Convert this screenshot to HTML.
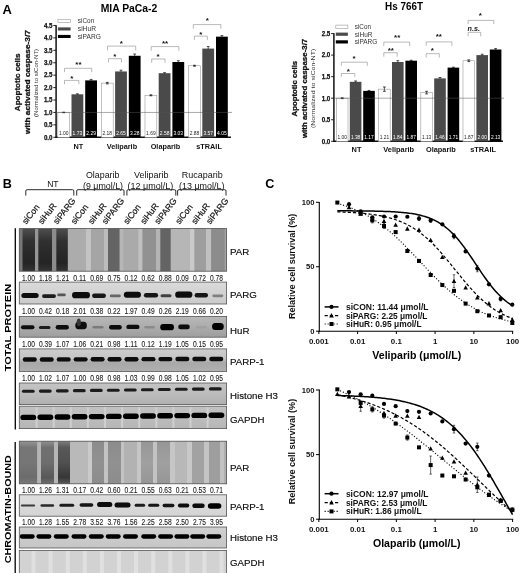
<!DOCTYPE html>
<html><head><meta charset="utf-8"><title>Figure</title>
<style>html,body{margin:0;padding:0;background:#fff;}svg{display:block;}</style>
</head><body>
<svg width="520" height="573" viewBox="0 0 520 573" font-family="'Liberation Sans', Arial, sans-serif">
<defs><filter id="bl" x="-20%" y="-80%" width="140%" height="260%"><feGaussianBlur stdDeviation="0.75"/></filter><linearGradient id="vg1" x1="0" y1="0" x2="0" y2="1"><stop offset="0" stop-color="#4e4e4e"/><stop offset="0.3" stop-color="#303030"/><stop offset="0.8" stop-color="#242424"/><stop offset="1" stop-color="#343434"/></linearGradient><linearGradient id="vg2" x1="0" y1="0" x2="0" y2="1"><stop offset="0" stop-color="#dadada"/><stop offset="1" stop-color="#cacaca"/></linearGradient><linearGradient id="vg3" x1="0" y1="0" x2="0" y2="1"><stop offset="0" stop-color="#b8b8b8"/><stop offset="0.5" stop-color="#acacac"/><stop offset="1" stop-color="#9e9e9e"/></linearGradient><linearGradient id="vg4" x1="0" y1="0" x2="0" y2="1"><stop offset="0" stop-color="#cecece"/><stop offset="0.42" stop-color="#c4c4c4"/><stop offset="0.62" stop-color="#a8a8a8"/><stop offset="1" stop-color="#b0b0b0"/></linearGradient><linearGradient id="vg5" x1="0" y1="0" x2="0" y2="1"><stop offset="0" stop-color="#c4c4c4"/><stop offset="0.5" stop-color="#bcbcbc"/><stop offset="1" stop-color="#b0b0b0"/></linearGradient><linearGradient id="vg6" x1="0" y1="0" x2="0" y2="1"><stop offset="0" stop-color="#c2c2c2"/><stop offset="1" stop-color="#b6b6b6"/></linearGradient><linearGradient id="vg7" x1="0" y1="0" x2="0" y2="1"><stop offset="0" stop-color="#969696"/><stop offset="0.15" stop-color="#767676"/><stop offset="0.5" stop-color="#767676"/><stop offset="0.85" stop-color="#6c6c6c"/><stop offset="1" stop-color="#7a7a7a"/></linearGradient><linearGradient id="vg8" x1="0" y1="0" x2="0" y2="1"><stop offset="0" stop-color="#919191"/><stop offset="0.15" stop-color="#707070"/><stop offset="0.5" stop-color="#6e6e6e"/><stop offset="0.85" stop-color="#585858"/><stop offset="1" stop-color="#6e6e6e"/></linearGradient><linearGradient id="vg9" x1="0" y1="0" x2="0" y2="1"><stop offset="0" stop-color="#7d7d7d"/><stop offset="0.15" stop-color="#585858"/><stop offset="0.5" stop-color="#505050"/><stop offset="0.85" stop-color="#373737"/><stop offset="1" stop-color="#5a5a5a"/></linearGradient><linearGradient id="vg10" x1="0" y1="0" x2="0" y2="1"><stop offset="0" stop-color="#8c8c8c"/><stop offset="0.5" stop-color="#919191"/><stop offset="1" stop-color="#8c8c8c"/></linearGradient><linearGradient id="vg11" x1="0" y1="0" x2="0" y2="1"><stop offset="0" stop-color="#969696"/><stop offset="0.5" stop-color="#a0a0a0"/><stop offset="1" stop-color="#969696"/></linearGradient><linearGradient id="vg12" x1="0" y1="0" x2="0" y2="1"><stop offset="0" stop-color="#dedede"/><stop offset="1" stop-color="#d4d4d4"/></linearGradient><linearGradient id="vg13" x1="0" y1="0" x2="0" y2="1"><stop offset="0" stop-color="#d0d0d0"/><stop offset="1" stop-color="#c6c6c6"/></linearGradient></defs>
<rect width="520" height="573" fill="#fff"/>
<text x="2.60" y="13.80" font-size="13" fill="#000" font-weight="bold">A</text>
<line x1="56.10" y1="25.18" x2="56.10" y2="138.00" stroke="#111" stroke-width="1.5"/>
<line x1="53.30" y1="137.30" x2="56.10" y2="137.30" stroke="#111" stroke-width="0.9"/>
<text x="52.50" y="139.60" font-size="6.6" fill="#111" font-weight="bold" text-anchor="end" textLength="8.60" lengthAdjust="spacingAndGlyphs" stroke="#111" stroke-width="0.25">0.0</text>
<line x1="53.30" y1="124.88" x2="56.10" y2="124.88" stroke="#111" stroke-width="0.9"/>
<text x="52.50" y="127.18" font-size="6.6" fill="#111" font-weight="bold" text-anchor="end" textLength="8.60" lengthAdjust="spacingAndGlyphs" stroke="#111" stroke-width="0.25">0.5</text>
<line x1="53.30" y1="112.45" x2="56.10" y2="112.45" stroke="#111" stroke-width="0.9"/>
<text x="52.50" y="114.75" font-size="6.6" fill="#111" font-weight="bold" text-anchor="end" textLength="8.60" lengthAdjust="spacingAndGlyphs" stroke="#111" stroke-width="0.25">1.0</text>
<line x1="53.30" y1="100.03" x2="56.10" y2="100.03" stroke="#111" stroke-width="0.9"/>
<text x="52.50" y="102.33" font-size="6.6" fill="#111" font-weight="bold" text-anchor="end" textLength="8.60" lengthAdjust="spacingAndGlyphs" stroke="#111" stroke-width="0.25">1.5</text>
<line x1="53.30" y1="87.60" x2="56.10" y2="87.60" stroke="#111" stroke-width="0.9"/>
<text x="52.50" y="89.90" font-size="6.6" fill="#111" font-weight="bold" text-anchor="end" textLength="8.60" lengthAdjust="spacingAndGlyphs" stroke="#111" stroke-width="0.25">2.0</text>
<line x1="53.30" y1="75.18" x2="56.10" y2="75.18" stroke="#111" stroke-width="0.9"/>
<text x="52.50" y="77.48" font-size="6.6" fill="#111" font-weight="bold" text-anchor="end" textLength="8.60" lengthAdjust="spacingAndGlyphs" stroke="#111" stroke-width="0.25">2.5</text>
<line x1="53.30" y1="62.75" x2="56.10" y2="62.75" stroke="#111" stroke-width="0.9"/>
<text x="52.50" y="65.05" font-size="6.6" fill="#111" font-weight="bold" text-anchor="end" textLength="8.60" lengthAdjust="spacingAndGlyphs" stroke="#111" stroke-width="0.25">3.0</text>
<line x1="53.30" y1="50.33" x2="56.10" y2="50.33" stroke="#111" stroke-width="0.9"/>
<text x="52.50" y="52.62" font-size="6.6" fill="#111" font-weight="bold" text-anchor="end" textLength="8.60" lengthAdjust="spacingAndGlyphs" stroke="#111" stroke-width="0.25">3.5</text>
<line x1="53.30" y1="37.90" x2="56.10" y2="37.90" stroke="#111" stroke-width="0.9"/>
<text x="52.50" y="40.20" font-size="6.6" fill="#111" font-weight="bold" text-anchor="end" textLength="8.60" lengthAdjust="spacingAndGlyphs" stroke="#111" stroke-width="0.25">4.0</text>
<line x1="53.30" y1="25.48" x2="56.10" y2="25.48" stroke="#111" stroke-width="0.9"/>
<text x="52.50" y="27.78" font-size="6.6" fill="#111" font-weight="bold" text-anchor="end" textLength="8.60" lengthAdjust="spacingAndGlyphs" stroke="#111" stroke-width="0.25">4.5</text>
<line x1="55.40" y1="137.30" x2="231.00" y2="137.30" stroke="#111" stroke-width="1.4"/>
<rect x="57.80" y="112.45" width="11.80" height="24.85" fill="#fff" stroke="#9a9a9a" stroke-width="0.6"/>
<line x1="63.70" y1="112.20" x2="63.70" y2="112.70" stroke="#000" stroke-width="0.6"/>
<line x1="62.30" y1="112.70" x2="65.10" y2="112.70" stroke="#000" stroke-width="0.7"/>
<line x1="62.30" y1="112.20" x2="65.10" y2="112.20" stroke="#000" stroke-width="0.7"/>
<text x="63.70" y="135.10" font-size="5.8" fill="#222" text-anchor="middle" textLength="9.60" lengthAdjust="spacingAndGlyphs">1.00</text>
<rect x="71.50" y="94.31" width="11.80" height="42.99" fill="#4a4a4a"/>
<line x1="77.40" y1="93.81" x2="77.40" y2="94.81" stroke="#000" stroke-width="0.6"/>
<line x1="76.00" y1="93.81" x2="78.80" y2="93.81" stroke="#000" stroke-width="0.7"/>
<text x="77.40" y="135.10" font-size="5.8" fill="#fff" text-anchor="middle" textLength="9.60" lengthAdjust="spacingAndGlyphs">1.73</text>
<rect x="85.20" y="80.39" width="11.80" height="56.91" fill="#000"/>
<line x1="91.10" y1="79.40" x2="91.10" y2="80.89" stroke="#000" stroke-width="0.6"/>
<line x1="89.70" y1="79.40" x2="92.50" y2="79.40" stroke="#000" stroke-width="0.7"/>
<text x="91.10" y="135.10" font-size="5.8" fill="#fff" text-anchor="middle" textLength="9.60" lengthAdjust="spacingAndGlyphs">2.29</text>
<text x="78.30" y="148.70" font-size="7.3" fill="#111" font-weight="bold" text-anchor="middle">NT</text>
<rect x="101.40" y="83.13" width="11.80" height="54.17" fill="#fff" stroke="#9a9a9a" stroke-width="0.6"/>
<line x1="107.30" y1="82.38" x2="107.30" y2="83.87" stroke="#000" stroke-width="0.6"/>
<line x1="105.90" y1="83.87" x2="108.70" y2="83.87" stroke="#000" stroke-width="0.7"/>
<line x1="105.90" y1="82.38" x2="108.70" y2="82.38" stroke="#000" stroke-width="0.7"/>
<text x="107.30" y="135.10" font-size="5.8" fill="#222" text-anchor="middle" textLength="9.60" lengthAdjust="spacingAndGlyphs">2.18</text>
<rect x="115.10" y="71.45" width="11.80" height="65.85" fill="#4a4a4a"/>
<line x1="121.00" y1="70.21" x2="121.00" y2="71.95" stroke="#000" stroke-width="0.6"/>
<line x1="119.60" y1="70.21" x2="122.40" y2="70.21" stroke="#000" stroke-width="0.7"/>
<text x="121.00" y="135.10" font-size="5.8" fill="#fff" text-anchor="middle" textLength="9.60" lengthAdjust="spacingAndGlyphs">2.65</text>
<rect x="128.80" y="55.79" width="11.80" height="81.51" fill="#000"/>
<line x1="134.70" y1="54.05" x2="134.70" y2="56.29" stroke="#000" stroke-width="0.6"/>
<line x1="133.30" y1="54.05" x2="136.10" y2="54.05" stroke="#000" stroke-width="0.7"/>
<text x="134.70" y="135.10" font-size="5.8" fill="#fff" text-anchor="middle" textLength="9.60" lengthAdjust="spacingAndGlyphs">3.28</text>
<text x="121.90" y="148.70" font-size="7.3" fill="#111" font-weight="bold" text-anchor="middle">Veliparib</text>
<rect x="145.00" y="95.30" width="11.80" height="42.00" fill="#fff" stroke="#9a9a9a" stroke-width="0.6"/>
<line x1="150.90" y1="94.81" x2="150.90" y2="95.80" stroke="#000" stroke-width="0.6"/>
<line x1="149.50" y1="95.80" x2="152.30" y2="95.80" stroke="#000" stroke-width="0.7"/>
<line x1="149.50" y1="94.81" x2="152.30" y2="94.81" stroke="#000" stroke-width="0.7"/>
<text x="150.90" y="135.10" font-size="5.8" fill="#222" text-anchor="middle" textLength="9.60" lengthAdjust="spacingAndGlyphs">1.69</text>
<rect x="158.70" y="73.19" width="11.80" height="64.11" fill="#4a4a4a"/>
<line x1="164.60" y1="72.69" x2="164.60" y2="73.69" stroke="#000" stroke-width="0.6"/>
<line x1="163.20" y1="72.69" x2="166.00" y2="72.69" stroke="#000" stroke-width="0.7"/>
<text x="164.60" y="135.10" font-size="5.8" fill="#fff" text-anchor="middle" textLength="9.60" lengthAdjust="spacingAndGlyphs">2.58</text>
<rect x="172.40" y="62.00" width="11.80" height="75.30" fill="#000"/>
<line x1="178.30" y1="60.76" x2="178.30" y2="62.50" stroke="#000" stroke-width="0.6"/>
<line x1="176.90" y1="60.76" x2="179.70" y2="60.76" stroke="#000" stroke-width="0.7"/>
<text x="178.30" y="135.10" font-size="5.8" fill="#fff" text-anchor="middle" textLength="9.60" lengthAdjust="spacingAndGlyphs">3.03</text>
<text x="165.50" y="148.70" font-size="7.3" fill="#111" font-weight="bold" text-anchor="middle">Olaparib</text>
<rect x="188.60" y="65.73" width="11.80" height="71.57" fill="#fff" stroke="#9a9a9a" stroke-width="0.6"/>
<line x1="194.50" y1="65.24" x2="194.50" y2="66.23" stroke="#000" stroke-width="0.6"/>
<line x1="193.10" y1="66.23" x2="195.90" y2="66.23" stroke="#000" stroke-width="0.7"/>
<line x1="193.10" y1="65.24" x2="195.90" y2="65.24" stroke="#000" stroke-width="0.7"/>
<text x="194.50" y="135.10" font-size="5.8" fill="#222" text-anchor="middle" textLength="9.60" lengthAdjust="spacingAndGlyphs">2.88</text>
<rect x="202.30" y="48.59" width="11.80" height="88.71" fill="#4a4a4a"/>
<line x1="208.20" y1="46.60" x2="208.20" y2="49.09" stroke="#000" stroke-width="0.6"/>
<line x1="206.80" y1="46.60" x2="209.60" y2="46.60" stroke="#000" stroke-width="0.7"/>
<text x="208.20" y="135.10" font-size="5.8" fill="#fff" text-anchor="middle" textLength="9.60" lengthAdjust="spacingAndGlyphs">3.57</text>
<rect x="216.00" y="36.66" width="11.80" height="100.64" fill="#000"/>
<line x1="221.90" y1="35.66" x2="221.90" y2="37.16" stroke="#000" stroke-width="0.6"/>
<line x1="220.50" y1="35.66" x2="223.30" y2="35.66" stroke="#000" stroke-width="0.7"/>
<text x="221.90" y="135.10" font-size="5.8" fill="#fff" text-anchor="middle" textLength="9.60" lengthAdjust="spacingAndGlyphs">4.05</text>
<text x="209.10" y="148.70" font-size="7.3" fill="#111" font-weight="bold" text-anchor="middle">sTRAIL</text>
<line x1="56.10" y1="112.45" x2="231.00" y2="112.45" stroke="#555" stroke-width="0.5"/>
<line x1="231.30" y1="111.85" x2="231.30" y2="113.05" stroke="#555" stroke-width="0.6"/>
<path d="M64.50 84.20 V80.40 H78.90 V84.20" fill="none" stroke="#8a8a8a" stroke-width="0.6"/>
<text x="71.80" y="80.70" font-size="8" fill="#111" font-weight="bold" text-anchor="middle">*</text>
<path d="M64.50 72.10 V68.30 H91.70 V72.10" fill="none" stroke="#8a8a8a" stroke-width="0.6"/>
<text x="78.40" y="66.90" font-size="8" fill="#111" font-weight="bold" text-anchor="middle">**</text>
<path d="M108.50 62.50 V58.70 H121.50 V62.50" fill="none" stroke="#8a8a8a" stroke-width="0.6"/>
<text x="114.90" y="58.60" font-size="8" fill="#111" font-weight="bold" text-anchor="middle">*</text>
<path d="M107.50 50.30 V46.10 H135.70 V50.30" fill="none" stroke="#8a8a8a" stroke-width="0.6"/>
<text x="121.30" y="45.60" font-size="8" fill="#111" font-weight="bold" text-anchor="middle">*</text>
<path d="M151.70 62.80 V59.00 H165.00 V62.80" fill="none" stroke="#8a8a8a" stroke-width="0.6"/>
<text x="158.10" y="59.10" font-size="8" fill="#111" font-weight="bold" text-anchor="middle">*</text>
<path d="M151.20 50.80 V46.60 H178.90 V50.80" fill="none" stroke="#8a8a8a" stroke-width="0.6"/>
<text x="165.00" y="45.60" font-size="8" fill="#111" font-weight="bold" text-anchor="middle">**</text>
<path d="M194.40 40.10 V36.10 H207.30 V40.10" fill="none" stroke="#8a8a8a" stroke-width="0.6"/>
<text x="200.80" y="36.80" font-size="8" fill="#111" font-weight="bold" text-anchor="middle">*</text>
<path d="M193.30 28.60 V24.60 H220.90 V28.60" fill="none" stroke="#8a8a8a" stroke-width="0.6"/>
<text x="207.30" y="23.20" font-size="8" fill="#111" font-weight="bold" text-anchor="middle">*</text>
<rect x="57.90" y="19.50" width="12.70" height="3.10" fill="#fff" stroke="#9a9a9a" stroke-width="0.6"/>
<text x="77.80" y="23.35" font-size="6.6" fill="#333" textLength="16.40" lengthAdjust="spacingAndGlyphs">siCon</text>
<rect x="57.90" y="27.40" width="12.70" height="3.10" fill="#4a4a4a"/>
<text x="77.80" y="31.25" font-size="6.6" fill="#333" textLength="18.20" lengthAdjust="spacingAndGlyphs">siHuR</text>
<rect x="57.90" y="34.90" width="12.70" height="3.10" fill="#000"/>
<text x="77.80" y="38.75" font-size="6.6" fill="#333" textLength="23.10" lengthAdjust="spacingAndGlyphs">siPARG</text>
<text x="129.00" y="11.60" font-size="10.3" fill="#000" font-weight="bold" text-anchor="middle" textLength="56.70" lengthAdjust="spacingAndGlyphs">MIA PaCa-2</text>
<text x="20.30" y="82.30" font-size="8.1" fill="#111" font-weight="bold" text-anchor="middle" textLength="57.70" lengthAdjust="spacingAndGlyphs" transform="translate(20.30 82.30) rotate(-90) scale(1 0.92) translate(-20.30 -82.30)" stroke="#111" stroke-width="0.3">Apoptotic cells</text>
<text x="29.60" y="82.10" font-size="8.2" fill="#111" font-weight="bold" text-anchor="middle" textLength="103.80" lengthAdjust="spacingAndGlyphs" transform="translate(29.60 82.10) rotate(-90) scale(1 0.92) translate(-29.60 -82.10)" stroke="#111" stroke-width="0.3">with activated caspase-3/7</text>
<text x="38.40" y="82.90" font-size="5.9" fill="#333" text-anchor="middle" textLength="68.00" lengthAdjust="spacingAndGlyphs" transform="translate(38.40 82.90) rotate(-90) scale(1 0.92) translate(-38.40 -82.90)">(Normalized to siCon-NT)</text>
<line x1="333.90" y1="33.25" x2="333.90" y2="142.00" stroke="#111" stroke-width="1.5"/>
<line x1="331.10" y1="141.30" x2="333.90" y2="141.30" stroke="#111" stroke-width="0.9"/>
<text x="330.30" y="143.60" font-size="6.6" fill="#111" font-weight="bold" text-anchor="end" textLength="8.60" lengthAdjust="spacingAndGlyphs" stroke="#111" stroke-width="0.25">0.0</text>
<line x1="331.10" y1="119.75" x2="333.90" y2="119.75" stroke="#111" stroke-width="0.9"/>
<text x="330.30" y="122.05" font-size="6.6" fill="#111" font-weight="bold" text-anchor="end" textLength="8.60" lengthAdjust="spacingAndGlyphs" stroke="#111" stroke-width="0.25">0.5</text>
<line x1="331.10" y1="98.20" x2="333.90" y2="98.20" stroke="#111" stroke-width="0.9"/>
<text x="330.30" y="100.50" font-size="6.6" fill="#111" font-weight="bold" text-anchor="end" textLength="8.60" lengthAdjust="spacingAndGlyphs" stroke="#111" stroke-width="0.25">1.0</text>
<line x1="331.10" y1="76.65" x2="333.90" y2="76.65" stroke="#111" stroke-width="0.9"/>
<text x="330.30" y="78.95" font-size="6.6" fill="#111" font-weight="bold" text-anchor="end" textLength="8.60" lengthAdjust="spacingAndGlyphs" stroke="#111" stroke-width="0.25">1.5</text>
<line x1="331.10" y1="55.10" x2="333.90" y2="55.10" stroke="#111" stroke-width="0.9"/>
<text x="330.30" y="57.40" font-size="6.6" fill="#111" font-weight="bold" text-anchor="end" textLength="8.60" lengthAdjust="spacingAndGlyphs" stroke="#111" stroke-width="0.25">2.0</text>
<line x1="331.10" y1="33.55" x2="333.90" y2="33.55" stroke="#111" stroke-width="0.9"/>
<text x="330.30" y="35.85" font-size="6.6" fill="#111" font-weight="bold" text-anchor="end" textLength="8.60" lengthAdjust="spacingAndGlyphs" stroke="#111" stroke-width="0.25">2.5</text>
<line x1="333.20" y1="141.30" x2="503.00" y2="141.30" stroke="#111" stroke-width="1.4"/>
<rect x="336.40" y="98.20" width="11.60" height="43.10" fill="#fff" stroke="#9a9a9a" stroke-width="0.6"/>
<line x1="342.20" y1="97.77" x2="342.20" y2="98.63" stroke="#000" stroke-width="0.6"/>
<line x1="340.80" y1="98.63" x2="343.60" y2="98.63" stroke="#000" stroke-width="0.7"/>
<line x1="340.80" y1="97.77" x2="343.60" y2="97.77" stroke="#000" stroke-width="0.7"/>
<text x="342.20" y="139.10" font-size="5.8" fill="#222" text-anchor="middle" textLength="9.40" lengthAdjust="spacingAndGlyphs">1.00</text>
<rect x="349.80" y="81.82" width="11.60" height="59.48" fill="#4a4a4a"/>
<line x1="355.60" y1="80.96" x2="355.60" y2="82.32" stroke="#000" stroke-width="0.6"/>
<line x1="354.20" y1="80.96" x2="357.00" y2="80.96" stroke="#000" stroke-width="0.7"/>
<text x="355.60" y="139.10" font-size="5.8" fill="#fff" text-anchor="middle" textLength="9.40" lengthAdjust="spacingAndGlyphs">1.38</text>
<rect x="363.20" y="90.87" width="11.60" height="50.43" fill="#000"/>
<line x1="369.00" y1="90.44" x2="369.00" y2="91.37" stroke="#000" stroke-width="0.6"/>
<line x1="367.60" y1="90.44" x2="370.40" y2="90.44" stroke="#000" stroke-width="0.7"/>
<text x="369.00" y="139.10" font-size="5.8" fill="#fff" text-anchor="middle" textLength="9.40" lengthAdjust="spacingAndGlyphs">1.17</text>
<text x="356.50" y="152.30" font-size="7.4" fill="#111" font-weight="bold" text-anchor="middle">NT</text>
<rect x="378.60" y="89.15" width="11.60" height="52.15" fill="#fff" stroke="#9a9a9a" stroke-width="0.6"/>
<line x1="384.40" y1="86.99" x2="384.40" y2="91.30" stroke="#000" stroke-width="0.6"/>
<line x1="383.00" y1="91.30" x2="385.80" y2="91.30" stroke="#000" stroke-width="0.7"/>
<line x1="383.00" y1="86.99" x2="385.80" y2="86.99" stroke="#000" stroke-width="0.7"/>
<text x="384.40" y="139.10" font-size="5.8" fill="#222" text-anchor="middle" textLength="9.40" lengthAdjust="spacingAndGlyphs">1.21</text>
<rect x="392.00" y="62.00" width="11.60" height="79.30" fill="#4a4a4a"/>
<line x1="397.80" y1="60.70" x2="397.80" y2="62.50" stroke="#000" stroke-width="0.6"/>
<line x1="396.40" y1="60.70" x2="399.20" y2="60.70" stroke="#000" stroke-width="0.7"/>
<text x="397.80" y="139.10" font-size="5.8" fill="#fff" text-anchor="middle" textLength="9.40" lengthAdjust="spacingAndGlyphs">1.84</text>
<rect x="405.40" y="60.70" width="11.60" height="80.60" fill="#000"/>
<line x1="411.20" y1="60.27" x2="411.20" y2="61.20" stroke="#000" stroke-width="0.6"/>
<line x1="409.80" y1="60.27" x2="412.60" y2="60.27" stroke="#000" stroke-width="0.7"/>
<text x="411.20" y="139.10" font-size="5.8" fill="#fff" text-anchor="middle" textLength="9.40" lengthAdjust="spacingAndGlyphs">1.87</text>
<text x="398.70" y="152.30" font-size="7.4" fill="#111" font-weight="bold" text-anchor="middle">Veliparib</text>
<rect x="420.80" y="92.60" width="11.60" height="48.70" fill="#fff" stroke="#9a9a9a" stroke-width="0.6"/>
<line x1="426.60" y1="91.30" x2="426.60" y2="93.89" stroke="#000" stroke-width="0.6"/>
<line x1="425.20" y1="93.89" x2="428.00" y2="93.89" stroke="#000" stroke-width="0.7"/>
<line x1="425.20" y1="91.30" x2="428.00" y2="91.30" stroke="#000" stroke-width="0.7"/>
<text x="426.60" y="139.10" font-size="5.8" fill="#222" text-anchor="middle" textLength="9.40" lengthAdjust="spacingAndGlyphs">1.13</text>
<rect x="434.20" y="78.37" width="11.60" height="62.93" fill="#4a4a4a"/>
<line x1="440.00" y1="77.51" x2="440.00" y2="78.87" stroke="#000" stroke-width="0.6"/>
<line x1="438.60" y1="77.51" x2="441.40" y2="77.51" stroke="#000" stroke-width="0.7"/>
<text x="440.00" y="139.10" font-size="5.8" fill="#fff" text-anchor="middle" textLength="9.40" lengthAdjust="spacingAndGlyphs">1.46</text>
<rect x="447.60" y="67.60" width="11.60" height="73.70" fill="#000"/>
<line x1="453.40" y1="67.17" x2="453.40" y2="68.10" stroke="#000" stroke-width="0.6"/>
<line x1="452.00" y1="67.17" x2="454.80" y2="67.17" stroke="#000" stroke-width="0.7"/>
<text x="453.40" y="139.10" font-size="5.8" fill="#fff" text-anchor="middle" textLength="9.40" lengthAdjust="spacingAndGlyphs">1.71</text>
<text x="440.90" y="152.30" font-size="7.4" fill="#111" font-weight="bold" text-anchor="middle">Olaparib</text>
<rect x="463.00" y="60.70" width="11.60" height="80.60" fill="#fff" stroke="#9a9a9a" stroke-width="0.6"/>
<line x1="468.80" y1="59.84" x2="468.80" y2="61.57" stroke="#000" stroke-width="0.6"/>
<line x1="467.40" y1="61.57" x2="470.20" y2="61.57" stroke="#000" stroke-width="0.7"/>
<line x1="467.40" y1="59.84" x2="470.20" y2="59.84" stroke="#000" stroke-width="0.7"/>
<text x="468.80" y="139.10" font-size="5.8" fill="#222" text-anchor="middle" textLength="9.40" lengthAdjust="spacingAndGlyphs">1.87</text>
<rect x="476.40" y="55.10" width="11.60" height="86.20" fill="#4a4a4a"/>
<line x1="482.20" y1="54.24" x2="482.20" y2="55.60" stroke="#000" stroke-width="0.6"/>
<line x1="480.80" y1="54.24" x2="483.60" y2="54.24" stroke="#000" stroke-width="0.7"/>
<text x="482.20" y="139.10" font-size="5.8" fill="#fff" text-anchor="middle" textLength="9.40" lengthAdjust="spacingAndGlyphs">2.00</text>
<rect x="489.80" y="49.50" width="11.60" height="91.80" fill="#000"/>
<line x1="495.60" y1="48.64" x2="495.60" y2="50.00" stroke="#000" stroke-width="0.6"/>
<line x1="494.20" y1="48.64" x2="497.00" y2="48.64" stroke="#000" stroke-width="0.7"/>
<text x="495.60" y="139.10" font-size="5.8" fill="#fff" text-anchor="middle" textLength="9.40" lengthAdjust="spacingAndGlyphs">2.13</text>
<text x="483.10" y="152.30" font-size="7.4" fill="#111" font-weight="bold" text-anchor="middle">sTRAIL</text>
<line x1="333.90" y1="98.20" x2="503.00" y2="98.20" stroke="#555" stroke-width="0.5"/>
<line x1="503.30" y1="97.60" x2="503.30" y2="98.80" stroke="#555" stroke-width="0.6"/>
<path d="M341.30 76.90 V73.50 H354.80 V76.90" fill="none" stroke="#8a8a8a" stroke-width="0.6"/>
<text x="348.40" y="73.80" font-size="8" fill="#111" font-weight="bold" text-anchor="middle">*</text>
<path d="M341.30 65.80 V62.20 H367.30 V65.80" fill="none" stroke="#8a8a8a" stroke-width="0.6"/>
<text x="354.00" y="60.90" font-size="8" fill="#111" font-weight="bold" text-anchor="middle">*</text>
<path d="M383.80 56.70 V52.70 H397.20 V56.70" fill="none" stroke="#8a8a8a" stroke-width="0.6"/>
<text x="390.80" y="52.90" font-size="8" fill="#111" font-weight="bold" text-anchor="middle">**</text>
<path d="M383.80 46.10 V42.10 H409.70 V46.10" fill="none" stroke="#8a8a8a" stroke-width="0.6"/>
<text x="397.20" y="40.10" font-size="8" fill="#111" font-weight="bold" text-anchor="middle">**</text>
<path d="M426.20 57.60 V53.70 H439.30 V57.60" fill="none" stroke="#8a8a8a" stroke-width="0.6"/>
<text x="432.30" y="52.60" font-size="8" fill="#111" font-weight="bold" text-anchor="middle">*</text>
<path d="M426.20 45.80 V41.90 H451.90 V45.80" fill="none" stroke="#8a8a8a" stroke-width="0.6"/>
<text x="438.80" y="39.40" font-size="8" fill="#111" font-weight="bold" text-anchor="middle">**</text>
<path d="M468.10 36.30 V32.30 H480.70 V36.30" fill="none" stroke="#8a8a8a" stroke-width="0.6"/>
<text x="473.80" y="30.80" font-size="7.2" fill="#222" font-weight="bold" text-anchor="middle" font-style="italic">n.s.</text>
<path d="M468.10 24.10 V20.40 H493.80 V24.10" fill="none" stroke="#8a8a8a" stroke-width="0.6"/>
<text x="480.20" y="18.10" font-size="8" fill="#111" font-weight="bold" text-anchor="middle">*</text>
<rect x="335.80" y="25.10" width="12.10" height="3.20" fill="#fff" stroke="#9a9a9a" stroke-width="0.6"/>
<text x="354.80" y="29.00" font-size="6.4" fill="#333" textLength="16.10" lengthAdjust="spacingAndGlyphs">siCon</text>
<rect x="335.80" y="32.60" width="12.10" height="3.20" fill="#4a4a4a"/>
<text x="354.80" y="36.50" font-size="6.4" fill="#333" textLength="17.60" lengthAdjust="spacingAndGlyphs">siHuR</text>
<rect x="335.80" y="40.30" width="12.10" height="3.20" fill="#000"/>
<text x="354.80" y="44.20" font-size="6.4" fill="#333" textLength="22.50" lengthAdjust="spacingAndGlyphs">siPARG</text>
<text x="404.00" y="9.70" font-size="10.3" fill="#000" font-weight="bold" text-anchor="middle" textLength="38.00" lengthAdjust="spacingAndGlyphs">Hs 766T</text>
<text x="297.20" y="88.60" font-size="7.8" fill="#111" font-weight="bold" text-anchor="middle" textLength="55.60" lengthAdjust="spacingAndGlyphs" transform="translate(297.20 88.60) rotate(-90) scale(1 0.92) translate(-297.20 -88.60)" stroke="#111" stroke-width="0.3">Apoptotic cells</text>
<text x="306.80" y="88.40" font-size="7.8" fill="#111" font-weight="bold" text-anchor="middle" textLength="99.30" lengthAdjust="spacingAndGlyphs" transform="translate(306.80 88.40) rotate(-90) scale(1 0.92) translate(-306.80 -88.40)" stroke="#111" stroke-width="0.3">with activated caspase-3/7</text>
<text x="314.60" y="88.40" font-size="6.6" fill="#333" text-anchor="middle" textLength="79.40" lengthAdjust="spacingAndGlyphs" transform="translate(314.60 88.40) rotate(-90) scale(1 0.92) translate(-314.60 -88.40)">(Normalized to siCon-NT)</text>
<text x="2.70" y="188.10" font-size="12.6" fill="#000" font-weight="bold">B</text>
<text x="52.90" y="186.70" font-size="8.5" fill="#111" text-anchor="middle">NT</text>
<text x="102.70" y="177.80" font-size="8.8" fill="#111" text-anchor="middle" textLength="33.40" lengthAdjust="spacingAndGlyphs">Olaparib</text>
<text x="103.00" y="188.60" font-size="8.8" fill="#111" text-anchor="middle" textLength="40.00" lengthAdjust="spacingAndGlyphs">(9 μmol/L)</text>
<text x="151.20" y="177.80" font-size="8.8" fill="#111" text-anchor="middle" textLength="34.50" lengthAdjust="spacingAndGlyphs">Veliparib</text>
<text x="150.30" y="188.60" font-size="8.8" fill="#111" text-anchor="middle" textLength="45.70" lengthAdjust="spacingAndGlyphs">(12 μmol/L)</text>
<text x="202.20" y="177.80" font-size="8.8" fill="#111" text-anchor="middle" textLength="41.00" lengthAdjust="spacingAndGlyphs">Rucaparib</text>
<text x="201.70" y="188.60" font-size="8.8" fill="#111" text-anchor="middle" textLength="45.40" lengthAdjust="spacingAndGlyphs">(13 μmol/L)</text>
<path d="M25.8 195.6 V191.0 Q25.8 189.7 27.1 189.7 H72.5 Q73.8 189.7 73.8 191.0 V195.6" fill="none" stroke="#2a2a2a" stroke-width="1.0"/>
<path d="M76.7 195.6 V191.0 Q76.7 189.7 78.0 189.7 H122.7 Q124.0 189.7 124.0 191.0 V195.6" fill="none" stroke="#2a2a2a" stroke-width="1.0"/>
<path d="M126.9 195.6 V191.0 Q126.9 189.7 128.20000000000002 189.7 H174.5 Q175.8 189.7 175.8 191.0 V195.6" fill="none" stroke="#2a2a2a" stroke-width="1.0"/>
<path d="M177.6 195.6 V191.0 Q177.6 189.7 178.9 189.7 H224.7 Q226.0 189.7 226.0 191.0 V195.6" fill="none" stroke="#2a2a2a" stroke-width="1.0"/>
<text x="26.20" y="224.80" font-size="8.7" fill="#111" transform="rotate(-52 26.20 224.80)" stroke="#111" stroke-width="0.2">siCon</text>
<text x="42.20" y="224.80" font-size="8.7" fill="#111" transform="rotate(-52 42.20 224.80)" stroke="#111" stroke-width="0.2">siHuR</text>
<text x="57.30" y="224.80" font-size="8.7" fill="#111" transform="rotate(-52 57.30 224.80)" stroke="#111" stroke-width="0.2">siPARG</text>
<text x="75.00" y="224.80" font-size="8.7" fill="#111" transform="rotate(-52 75.00 224.80)" stroke="#111" stroke-width="0.2">siCon</text>
<text x="92.30" y="224.80" font-size="8.7" fill="#111" transform="rotate(-52 92.30 224.80)" stroke="#111" stroke-width="0.2">siHuR</text>
<text x="106.10" y="224.80" font-size="8.7" fill="#111" transform="rotate(-52 106.10 224.80)" stroke="#111" stroke-width="0.2">siPARG</text>
<text x="127.60" y="224.80" font-size="8.7" fill="#111" transform="rotate(-52 127.60 224.80)" stroke="#111" stroke-width="0.2">siCon</text>
<text x="144.50" y="224.80" font-size="8.7" fill="#111" transform="rotate(-52 144.50 224.80)" stroke="#111" stroke-width="0.2">siHuR</text>
<text x="158.60" y="224.80" font-size="8.7" fill="#111" transform="rotate(-52 158.60 224.80)" stroke="#111" stroke-width="0.2">siPARG</text>
<text x="179.50" y="224.80" font-size="8.7" fill="#111" transform="rotate(-52 179.50 224.80)" stroke="#111" stroke-width="0.2">siCon</text>
<text x="195.60" y="224.80" font-size="8.7" fill="#111" transform="rotate(-52 195.60 224.80)" stroke="#111" stroke-width="0.2">siHuR</text>
<text x="210.20" y="224.80" font-size="8.7" fill="#111" transform="rotate(-52 210.20 224.80)" stroke="#111" stroke-width="0.2">siPARG</text>
<line x1="15.30" y1="228.20" x2="15.30" y2="429.40" stroke="#000" stroke-width="1.3"/>
<line x1="15.20" y1="442.00" x2="15.20" y2="573.50" stroke="#000" stroke-width="1.3"/>
<text x="11.40" y="327.60" font-size="11.0" fill="#000" font-weight="bold" text-anchor="middle" textLength="87.50" lengthAdjust="spacingAndGlyphs" transform="translate(11.40 327.60) rotate(-90) scale(1 0.88) translate(-11.40 -327.60)">TOTAL PROTEIN</text>
<text x="10.60" y="509.20" font-size="10.9" fill="#000" font-weight="bold" text-anchor="middle" textLength="108.20" lengthAdjust="spacingAndGlyphs" transform="translate(10.60 509.20) rotate(-90) scale(1 0.9) translate(-10.60 -509.20)">CHROMATIN-BOUND</text>
<rect x="19.30" y="228.60" width="207.30" height="42.60" fill="#999"/>
<rect x="19.30" y="228.60" width="3.10" height="42.60" fill="#787878"/>
<rect x="22.40" y="228.60" width="12.70" height="42.60" fill="url(#vg1)"/>
<rect x="35.10" y="228.60" width="3.20" height="42.60" fill="#969696"/>
<rect x="38.30" y="228.60" width="13.70" height="42.60" fill="url(#vg1)"/>
<rect x="52.00" y="228.60" width="4.30" height="42.60" fill="#8c8c8c"/>
<rect x="56.30" y="228.60" width="11.60" height="42.60" fill="url(#vg1)"/>
<rect x="67.90" y="228.60" width="18.10" height="42.60" fill="#acacac"/>
<rect x="86.00" y="228.60" width="5.20" height="42.60" fill="#c3c3c3"/>
<rect x="91.20" y="228.60" width="12.80" height="42.60" fill="#a5a5a5"/>
<rect x="104.00" y="228.60" width="4.00" height="42.60" fill="#bcbcbc"/>
<rect x="108.00" y="228.60" width="11.70" height="42.60" fill="#646464"/>
<rect x="119.70" y="228.60" width="4.10" height="42.60" fill="#b6b6b6"/>
<rect x="123.80" y="228.60" width="14.40" height="42.60" fill="#aaaaaa"/>
<rect x="138.20" y="228.60" width="4.40" height="42.60" fill="#c0c0c0"/>
<rect x="142.60" y="228.60" width="13.40" height="42.60" fill="#919191"/>
<rect x="156.00" y="228.60" width="4.40" height="42.60" fill="#b4b4b4"/>
<rect x="160.40" y="228.60" width="10.40" height="42.60" fill="#646464"/>
<rect x="170.80" y="228.60" width="19.20" height="42.60" fill="#b6b6b6"/>
<rect x="190.00" y="228.60" width="4.60" height="42.60" fill="#cacaca"/>
<rect x="194.60" y="228.60" width="11.40" height="42.60" fill="#9e9e9e"/>
<rect x="206.00" y="228.60" width="5.20" height="42.60" fill="#c0c0c0"/>
<rect x="211.20" y="228.60" width="13.60" height="42.60" fill="#8c8c8c"/>
<rect x="224.80" y="228.60" width="1.80" height="42.60" fill="#a5a5a5"/>
<rect x="19.30" y="228.60" width="207.30" height="42.60" fill="none" stroke="#555" stroke-width="0.8"/>
<text x="28.40" y="280.90" font-size="8.3" fill="#1a1a1a" text-anchor="middle" textLength="13.00" lengthAdjust="spacingAndGlyphs" stroke="#1a1a1a" stroke-width="0.1">1.00</text>
<text x="45.50" y="280.90" font-size="8.3" fill="#1a1a1a" text-anchor="middle" textLength="13.00" lengthAdjust="spacingAndGlyphs" stroke="#1a1a1a" stroke-width="0.1">1.18</text>
<text x="62.60" y="280.90" font-size="8.3" fill="#1a1a1a" text-anchor="middle" textLength="13.00" lengthAdjust="spacingAndGlyphs" stroke="#1a1a1a" stroke-width="0.1">1.21</text>
<text x="79.70" y="280.90" font-size="8.3" fill="#1a1a1a" text-anchor="middle" textLength="13.00" lengthAdjust="spacingAndGlyphs" stroke="#1a1a1a" stroke-width="0.1">0.11</text>
<text x="96.80" y="280.90" font-size="8.3" fill="#1a1a1a" text-anchor="middle" textLength="13.00" lengthAdjust="spacingAndGlyphs" stroke="#1a1a1a" stroke-width="0.1">0.69</text>
<text x="113.90" y="280.90" font-size="8.3" fill="#1a1a1a" text-anchor="middle" textLength="13.00" lengthAdjust="spacingAndGlyphs" stroke="#1a1a1a" stroke-width="0.1">0.75</text>
<text x="131.00" y="280.90" font-size="8.3" fill="#1a1a1a" text-anchor="middle" textLength="13.00" lengthAdjust="spacingAndGlyphs" stroke="#1a1a1a" stroke-width="0.1">0.12</text>
<text x="148.10" y="280.90" font-size="8.3" fill="#1a1a1a" text-anchor="middle" textLength="13.00" lengthAdjust="spacingAndGlyphs" stroke="#1a1a1a" stroke-width="0.1">0.62</text>
<text x="165.20" y="280.90" font-size="8.3" fill="#1a1a1a" text-anchor="middle" textLength="13.00" lengthAdjust="spacingAndGlyphs" stroke="#1a1a1a" stroke-width="0.1">0.88</text>
<text x="182.30" y="280.90" font-size="8.3" fill="#1a1a1a" text-anchor="middle" textLength="13.00" lengthAdjust="spacingAndGlyphs" stroke="#1a1a1a" stroke-width="0.1">0.09</text>
<text x="199.40" y="280.90" font-size="8.3" fill="#1a1a1a" text-anchor="middle" textLength="13.00" lengthAdjust="spacingAndGlyphs" stroke="#1a1a1a" stroke-width="0.1">0.72</text>
<text x="216.50" y="280.90" font-size="8.3" fill="#1a1a1a" text-anchor="middle" textLength="13.00" lengthAdjust="spacingAndGlyphs" stroke="#1a1a1a" stroke-width="0.1">0.78</text>
<rect x="19.30" y="282.10" width="207.30" height="21.90" fill="url(#vg2)"/>
<g filter="url(#bl)">
<rect x="21.35" y="293.00" width="17.30" height="5.00" rx="2.50" ry="2.50" fill="#0d0d0d"/>
<rect x="42.05" y="294.20" width="13.90" height="3.80" rx="1.90" ry="1.90" fill="#1a1a1a"/>
<rect x="57.25" y="293.60" width="8.50" height="2.60" rx="1.30" ry="1.30" fill="#555"/>
<rect x="72.00" y="292.10" width="18.00" height="6.20" rx="3.00" ry="3.10" fill="#0a0a0a"/>
<rect x="92.10" y="293.60" width="13.80" height="4.40" rx="2.20" ry="2.20" fill="#141414"/>
<rect x="109.80" y="294.50" width="11.00" height="2.80" rx="1.40" ry="1.40" fill="#666"/>
<rect x="123.80" y="291.70" width="17.20" height="6.00" rx="3.00" ry="3.00" fill="#0a0a0a"/>
<rect x="143.90" y="293.00" width="14.20" height="4.40" rx="2.20" ry="2.20" fill="#141414"/>
<rect x="160.50" y="294.30" width="11.00" height="3.00" rx="1.50" ry="1.50" fill="#404040"/>
<rect x="175.20" y="291.60" width="17.20" height="6.20" rx="3.00" ry="3.10" fill="#0a0a0a"/>
<rect x="194.60" y="293.00" width="13.40" height="4.40" rx="2.20" ry="2.20" fill="#141414"/>
<rect x="212.30" y="294.40" width="11.00" height="2.80" rx="1.40" ry="1.40" fill="#808080"/>
</g>
<rect x="19.30" y="282.10" width="207.30" height="21.90" fill="none" stroke="#555" stroke-width="0.8"/>
<text x="28.40" y="314.10" font-size="8.3" fill="#1a1a1a" text-anchor="middle" textLength="13.00" lengthAdjust="spacingAndGlyphs" stroke="#1a1a1a" stroke-width="0.1">1.00</text>
<text x="45.50" y="314.10" font-size="8.3" fill="#1a1a1a" text-anchor="middle" textLength="13.00" lengthAdjust="spacingAndGlyphs" stroke="#1a1a1a" stroke-width="0.1">0.42</text>
<text x="62.60" y="314.10" font-size="8.3" fill="#1a1a1a" text-anchor="middle" textLength="13.00" lengthAdjust="spacingAndGlyphs" stroke="#1a1a1a" stroke-width="0.1">0.18</text>
<text x="79.70" y="314.10" font-size="8.3" fill="#1a1a1a" text-anchor="middle" textLength="13.00" lengthAdjust="spacingAndGlyphs" stroke="#1a1a1a" stroke-width="0.1">2.01</text>
<text x="96.80" y="314.10" font-size="8.3" fill="#1a1a1a" text-anchor="middle" textLength="13.00" lengthAdjust="spacingAndGlyphs" stroke="#1a1a1a" stroke-width="0.1">0.38</text>
<text x="113.90" y="314.10" font-size="8.3" fill="#1a1a1a" text-anchor="middle" textLength="13.00" lengthAdjust="spacingAndGlyphs" stroke="#1a1a1a" stroke-width="0.1">0.22</text>
<text x="131.00" y="314.10" font-size="8.3" fill="#1a1a1a" text-anchor="middle" textLength="13.00" lengthAdjust="spacingAndGlyphs" stroke="#1a1a1a" stroke-width="0.1">1.97</text>
<text x="148.10" y="314.10" font-size="8.3" fill="#1a1a1a" text-anchor="middle" textLength="13.00" lengthAdjust="spacingAndGlyphs" stroke="#1a1a1a" stroke-width="0.1">0.49</text>
<text x="165.20" y="314.10" font-size="8.3" fill="#1a1a1a" text-anchor="middle" textLength="13.00" lengthAdjust="spacingAndGlyphs" stroke="#1a1a1a" stroke-width="0.1">0.26</text>
<text x="182.30" y="314.10" font-size="8.3" fill="#1a1a1a" text-anchor="middle" textLength="13.00" lengthAdjust="spacingAndGlyphs" stroke="#1a1a1a" stroke-width="0.1">2.19</text>
<text x="199.40" y="314.10" font-size="8.3" fill="#1a1a1a" text-anchor="middle" textLength="13.00" lengthAdjust="spacingAndGlyphs" stroke="#1a1a1a" stroke-width="0.1">0.66</text>
<text x="216.50" y="314.10" font-size="8.3" fill="#1a1a1a" text-anchor="middle" textLength="13.00" lengthAdjust="spacingAndGlyphs" stroke="#1a1a1a" stroke-width="0.1">0.20</text>
<rect x="19.30" y="316.40" width="207.30" height="20.80" fill="url(#vg3)"/>
<g filter="url(#bl)">
<rect x="20.95" y="325.20" width="13.50" height="4.00" rx="2.00" ry="2.00" fill="#0d0d0d"/>
<rect x="38.95" y="325.90" width="11.50" height="3.20" rx="1.60" ry="1.60" fill="#1a1a1a"/>
<rect x="55.70" y="325.00" width="13.20" height="4.40" rx="2.20" ry="2.20" fill="#0d0d0d"/>
<rect x="75.35" y="321.65" width="11.50" height="7.50" rx="3.00" ry="3.75" fill="#0a0a0a"/>
<rect x="76.70" y="318.60" width="4.20" height="7.60" rx="3.00" ry="3.80" fill="#383838"/>
<rect x="92.50" y="325.90" width="11.00" height="2.60" rx="1.30" ry="1.30" fill="#7a7a7a"/>
<rect x="109.00" y="324.95" width="12.80" height="4.50" rx="2.25" ry="2.25" fill="#0d0d0d"/>
<rect x="126.30" y="324.70" width="13.20" height="4.40" rx="2.20" ry="2.20" fill="#0d0d0d"/>
<rect x="144.35" y="326.00" width="10.50" height="2.40" rx="1.20" ry="1.20" fill="#8a8a8a"/>
<rect x="160.20" y="324.10" width="13.80" height="6.20" rx="3.00" ry="3.10" fill="#050505"/>
<rect x="178.20" y="324.60" width="11.60" height="4.60" rx="2.30" ry="2.30" fill="#0d0d0d"/>
<rect x="196.25" y="326.00" width="10.50" height="2.40" rx="1.20" ry="1.20" fill="#a0a0a0"/>
<rect x="212.05" y="323.10" width="11.70" height="7.00" rx="3.00" ry="3.50" fill="#050505"/>
</g>
<rect x="19.30" y="316.40" width="207.30" height="20.80" fill="none" stroke="#555" stroke-width="0.8"/>
<text x="28.40" y="347.10" font-size="8.3" fill="#1a1a1a" text-anchor="middle" textLength="13.00" lengthAdjust="spacingAndGlyphs" stroke="#1a1a1a" stroke-width="0.1">1.00</text>
<text x="45.50" y="347.10" font-size="8.3" fill="#1a1a1a" text-anchor="middle" textLength="13.00" lengthAdjust="spacingAndGlyphs" stroke="#1a1a1a" stroke-width="0.1">0.39</text>
<text x="62.60" y="347.10" font-size="8.3" fill="#1a1a1a" text-anchor="middle" textLength="13.00" lengthAdjust="spacingAndGlyphs" stroke="#1a1a1a" stroke-width="0.1">1.07</text>
<text x="79.70" y="347.10" font-size="8.3" fill="#1a1a1a" text-anchor="middle" textLength="13.00" lengthAdjust="spacingAndGlyphs" stroke="#1a1a1a" stroke-width="0.1">1.06</text>
<text x="96.80" y="347.10" font-size="8.3" fill="#1a1a1a" text-anchor="middle" textLength="13.00" lengthAdjust="spacingAndGlyphs" stroke="#1a1a1a" stroke-width="0.1">0.21</text>
<text x="113.90" y="347.10" font-size="8.3" fill="#1a1a1a" text-anchor="middle" textLength="13.00" lengthAdjust="spacingAndGlyphs" stroke="#1a1a1a" stroke-width="0.1">0.98</text>
<text x="131.00" y="347.10" font-size="8.3" fill="#1a1a1a" text-anchor="middle" textLength="13.00" lengthAdjust="spacingAndGlyphs" stroke="#1a1a1a" stroke-width="0.1">1.11</text>
<text x="148.10" y="347.10" font-size="8.3" fill="#1a1a1a" text-anchor="middle" textLength="13.00" lengthAdjust="spacingAndGlyphs" stroke="#1a1a1a" stroke-width="0.1">0.12</text>
<text x="165.20" y="347.10" font-size="8.3" fill="#1a1a1a" text-anchor="middle" textLength="13.00" lengthAdjust="spacingAndGlyphs" stroke="#1a1a1a" stroke-width="0.1">1.19</text>
<text x="182.30" y="347.10" font-size="8.3" fill="#1a1a1a" text-anchor="middle" textLength="13.00" lengthAdjust="spacingAndGlyphs" stroke="#1a1a1a" stroke-width="0.1">1.05</text>
<text x="199.40" y="347.10" font-size="8.3" fill="#1a1a1a" text-anchor="middle" textLength="13.00" lengthAdjust="spacingAndGlyphs" stroke="#1a1a1a" stroke-width="0.1">0.15</text>
<text x="216.50" y="347.10" font-size="8.3" fill="#1a1a1a" text-anchor="middle" textLength="13.00" lengthAdjust="spacingAndGlyphs" stroke="#1a1a1a" stroke-width="0.1">0.95</text>
<rect x="19.30" y="348.90" width="207.30" height="22.50" fill="url(#vg4)"/>
<g filter="url(#bl)">
<rect x="22.80" y="357.30" width="14.00" height="4.40" rx="2.20" ry="2.20" fill="#0a0a0a"/>
<rect x="39.75" y="357.25" width="14.00" height="4.40" rx="2.20" ry="2.20" fill="#0a0a0a"/>
<rect x="56.70" y="357.20" width="14.00" height="4.40" rx="2.20" ry="2.20" fill="#0a0a0a"/>
<rect x="73.65" y="357.15" width="14.00" height="4.40" rx="2.20" ry="2.20" fill="#0a0a0a"/>
<rect x="90.60" y="357.10" width="14.00" height="4.40" rx="2.20" ry="2.20" fill="#0a0a0a"/>
<rect x="107.55" y="357.05" width="14.00" height="4.40" rx="2.20" ry="2.20" fill="#0a0a0a"/>
<rect x="124.50" y="357.00" width="14.00" height="4.40" rx="2.20" ry="2.20" fill="#0a0a0a"/>
<rect x="141.45" y="356.95" width="14.00" height="4.40" rx="2.20" ry="2.20" fill="#0a0a0a"/>
<rect x="158.40" y="356.90" width="14.00" height="4.40" rx="2.20" ry="2.20" fill="#0a0a0a"/>
<rect x="175.35" y="356.85" width="14.00" height="4.40" rx="2.20" ry="2.20" fill="#0a0a0a"/>
<rect x="192.30" y="356.80" width="14.00" height="4.40" rx="2.20" ry="2.20" fill="#0a0a0a"/>
<rect x="209.25" y="356.75" width="14.00" height="4.40" rx="2.20" ry="2.20" fill="#0a0a0a"/>
</g>
<rect x="19.30" y="348.90" width="207.30" height="22.50" fill="none" stroke="#555" stroke-width="0.8"/>
<text x="28.40" y="380.90" font-size="8.3" fill="#1a1a1a" text-anchor="middle" textLength="13.00" lengthAdjust="spacingAndGlyphs" stroke="#1a1a1a" stroke-width="0.1">1.00</text>
<text x="45.50" y="380.90" font-size="8.3" fill="#1a1a1a" text-anchor="middle" textLength="13.00" lengthAdjust="spacingAndGlyphs" stroke="#1a1a1a" stroke-width="0.1">1.02</text>
<text x="62.60" y="380.90" font-size="8.3" fill="#1a1a1a" text-anchor="middle" textLength="13.00" lengthAdjust="spacingAndGlyphs" stroke="#1a1a1a" stroke-width="0.1">1.07</text>
<text x="79.70" y="380.90" font-size="8.3" fill="#1a1a1a" text-anchor="middle" textLength="13.00" lengthAdjust="spacingAndGlyphs" stroke="#1a1a1a" stroke-width="0.1">1.00</text>
<text x="96.80" y="380.90" font-size="8.3" fill="#1a1a1a" text-anchor="middle" textLength="13.00" lengthAdjust="spacingAndGlyphs" stroke="#1a1a1a" stroke-width="0.1">0.98</text>
<text x="113.90" y="380.90" font-size="8.3" fill="#1a1a1a" text-anchor="middle" textLength="13.00" lengthAdjust="spacingAndGlyphs" stroke="#1a1a1a" stroke-width="0.1">0.98</text>
<text x="131.00" y="380.90" font-size="8.3" fill="#1a1a1a" text-anchor="middle" textLength="13.00" lengthAdjust="spacingAndGlyphs" stroke="#1a1a1a" stroke-width="0.1">1.03</text>
<text x="148.10" y="380.90" font-size="8.3" fill="#1a1a1a" text-anchor="middle" textLength="13.00" lengthAdjust="spacingAndGlyphs" stroke="#1a1a1a" stroke-width="0.1">0.99</text>
<text x="165.20" y="380.90" font-size="8.3" fill="#1a1a1a" text-anchor="middle" textLength="13.00" lengthAdjust="spacingAndGlyphs" stroke="#1a1a1a" stroke-width="0.1">0.98</text>
<text x="182.30" y="380.90" font-size="8.3" fill="#1a1a1a" text-anchor="middle" textLength="13.00" lengthAdjust="spacingAndGlyphs" stroke="#1a1a1a" stroke-width="0.1">1.05</text>
<text x="199.40" y="380.90" font-size="8.3" fill="#1a1a1a" text-anchor="middle" textLength="13.00" lengthAdjust="spacingAndGlyphs" stroke="#1a1a1a" stroke-width="0.1">1.02</text>
<text x="216.50" y="380.90" font-size="8.3" fill="#1a1a1a" text-anchor="middle" textLength="13.00" lengthAdjust="spacingAndGlyphs" stroke="#1a1a1a" stroke-width="0.1">0.95</text>
<rect x="19.30" y="383.00" width="207.30" height="21.60" fill="url(#vg5)"/>
<g filter="url(#bl)">
<rect x="21.90" y="389.75" width="12.80" height="3.10" rx="1.55" ry="1.55" fill="#1c1c1c"/>
<rect x="38.90" y="389.53" width="12.80" height="3.10" rx="1.55" ry="1.55" fill="#1c1c1c"/>
<rect x="55.90" y="389.31" width="12.80" height="3.10" rx="1.55" ry="1.55" fill="#1c1c1c"/>
<rect x="72.90" y="389.09" width="12.80" height="3.10" rx="1.55" ry="1.55" fill="#1c1c1c"/>
<rect x="89.90" y="388.87" width="12.80" height="3.10" rx="1.55" ry="1.55" fill="#1c1c1c"/>
<rect x="106.90" y="388.65" width="12.80" height="3.10" rx="1.55" ry="1.55" fill="#1c1c1c"/>
<rect x="123.90" y="388.43" width="12.80" height="3.10" rx="1.55" ry="1.55" fill="#1c1c1c"/>
<rect x="140.90" y="388.21" width="12.80" height="3.10" rx="1.55" ry="1.55" fill="#1c1c1c"/>
<rect x="157.90" y="387.99" width="12.80" height="3.10" rx="1.55" ry="1.55" fill="#1c1c1c"/>
<rect x="174.90" y="387.77" width="12.80" height="3.10" rx="1.55" ry="1.55" fill="#1c1c1c"/>
<rect x="191.90" y="387.55" width="12.80" height="3.10" rx="1.55" ry="1.55" fill="#1c1c1c"/>
<rect x="208.90" y="387.33" width="12.80" height="3.10" rx="1.55" ry="1.55" fill="#1c1c1c"/>
</g>
<rect x="19.30" y="383.00" width="207.30" height="21.60" fill="none" stroke="#555" stroke-width="0.8"/>
<rect x="19.30" y="406.20" width="207.30" height="22.40" fill="url(#vg6)"/>
<rect x="35.60" y="406.20" width="2.00" height="22.40" fill="#cfcfcf"/>
<rect x="52.70" y="406.20" width="2.00" height="22.40" fill="#cfcfcf"/>
<rect x="69.80" y="406.20" width="2.00" height="22.40" fill="#cfcfcf"/>
<rect x="86.90" y="406.20" width="2.00" height="22.40" fill="#cfcfcf"/>
<rect x="104.00" y="406.20" width="2.00" height="22.40" fill="#cfcfcf"/>
<rect x="121.10" y="406.20" width="2.00" height="22.40" fill="#cfcfcf"/>
<rect x="138.20" y="406.20" width="2.00" height="22.40" fill="#cfcfcf"/>
<rect x="155.30" y="406.20" width="2.00" height="22.40" fill="#cfcfcf"/>
<rect x="172.40" y="406.20" width="2.00" height="22.40" fill="#cfcfcf"/>
<rect x="189.50" y="406.20" width="2.00" height="22.40" fill="#cfcfcf"/>
<rect x="206.60" y="406.20" width="2.00" height="22.40" fill="#cfcfcf"/>
<g filter="url(#bl)">
<rect x="20.40" y="414.70" width="15.80" height="5.40" rx="2.70" ry="2.70" fill="#050505"/>
<rect x="37.50" y="414.50" width="15.80" height="5.40" rx="2.70" ry="2.70" fill="#050505"/>
<rect x="54.60" y="414.30" width="15.80" height="5.40" rx="2.70" ry="2.70" fill="#050505"/>
<rect x="71.70" y="414.10" width="15.80" height="5.40" rx="2.70" ry="2.70" fill="#050505"/>
<rect x="88.80" y="413.90" width="15.80" height="5.40" rx="2.70" ry="2.70" fill="#050505"/>
<rect x="105.90" y="413.70" width="15.80" height="5.40" rx="2.70" ry="2.70" fill="#050505"/>
<rect x="123.00" y="413.50" width="15.80" height="5.40" rx="2.70" ry="2.70" fill="#050505"/>
<rect x="140.10" y="413.30" width="15.80" height="5.40" rx="2.70" ry="2.70" fill="#050505"/>
<rect x="157.20" y="413.10" width="15.80" height="5.40" rx="2.70" ry="2.70" fill="#050505"/>
<rect x="174.30" y="412.90" width="15.80" height="5.40" rx="2.70" ry="2.70" fill="#050505"/>
<rect x="191.40" y="412.70" width="15.80" height="5.40" rx="2.70" ry="2.70" fill="#050505"/>
<rect x="208.50" y="412.50" width="15.80" height="5.40" rx="2.70" ry="2.70" fill="#050505"/>
</g>
<rect x="19.30" y="406.20" width="207.30" height="22.40" fill="none" stroke="#555" stroke-width="0.8"/>
<rect x="19.30" y="441.20" width="207.30" height="42.60" fill="#999"/>
<rect x="19.30" y="441.20" width="17.90" height="42.60" fill="url(#vg7)"/>
<rect x="37.20" y="441.20" width="3.80" height="42.60" fill="#b4b4b4"/>
<rect x="41.00" y="441.20" width="13.00" height="42.60" fill="url(#vg8)"/>
<rect x="54.00" y="441.20" width="4.00" height="42.60" fill="#b6b6b6"/>
<rect x="58.00" y="441.20" width="12.00" height="42.60" fill="url(#vg9)"/>
<rect x="70.00" y="441.20" width="18.00" height="42.60" fill="#b9b9b9"/>
<rect x="88.00" y="441.20" width="4.00" height="42.60" fill="#cacaca"/>
<rect x="92.00" y="441.20" width="12.00" height="42.60" fill="url(#vg10)"/>
<rect x="104.00" y="441.20" width="4.00" height="42.60" fill="#c3c3c3"/>
<rect x="108.00" y="441.20" width="13.00" height="42.60" fill="url(#vg10)"/>
<rect x="121.00" y="441.20" width="3.00" height="42.60" fill="#c3c3c3"/>
<rect x="124.00" y="441.20" width="13.00" height="42.60" fill="#b2b2b2"/>
<rect x="137.00" y="441.20" width="4.00" height="42.60" fill="#c6c6c6"/>
<rect x="141.00" y="441.20" width="12.00" height="42.60" fill="url(#vg11)"/>
<rect x="153.00" y="441.20" width="4.00" height="42.60" fill="#c3c3c3"/>
<rect x="157.00" y="441.20" width="13.00" height="42.60" fill="url(#vg11)"/>
<rect x="170.00" y="441.20" width="5.00" height="42.60" fill="#c6c6c6"/>
<rect x="175.00" y="441.20" width="12.00" height="42.60" fill="#b8b8b8"/>
<rect x="187.00" y="441.20" width="5.00" height="42.60" fill="#c8c8c8"/>
<rect x="192.00" y="441.20" width="12.00" height="42.60" fill="#a2a2a2"/>
<rect x="204.00" y="441.20" width="5.00" height="42.60" fill="#c4c4c4"/>
<rect x="209.00" y="441.20" width="11.00" height="42.60" fill="#9e9e9e"/>
<rect x="220.00" y="441.20" width="4.00" height="42.60" fill="#c2c2c2"/>
<rect x="224.00" y="441.20" width="2.60" height="42.60" fill="#afafaf"/>
<rect x="19.30" y="441.20" width="207.30" height="42.60" fill="none" stroke="#555" stroke-width="0.8"/>
<text x="28.40" y="492.90" font-size="8.3" fill="#1a1a1a" text-anchor="middle" textLength="13.00" lengthAdjust="spacingAndGlyphs" stroke="#1a1a1a" stroke-width="0.1">1.00</text>
<text x="45.50" y="492.90" font-size="8.3" fill="#1a1a1a" text-anchor="middle" textLength="13.00" lengthAdjust="spacingAndGlyphs" stroke="#1a1a1a" stroke-width="0.1">1.26</text>
<text x="62.60" y="492.90" font-size="8.3" fill="#1a1a1a" text-anchor="middle" textLength="13.00" lengthAdjust="spacingAndGlyphs" stroke="#1a1a1a" stroke-width="0.1">1.31</text>
<text x="79.70" y="492.90" font-size="8.3" fill="#1a1a1a" text-anchor="middle" textLength="13.00" lengthAdjust="spacingAndGlyphs" stroke="#1a1a1a" stroke-width="0.1">0.17</text>
<text x="96.80" y="492.90" font-size="8.3" fill="#1a1a1a" text-anchor="middle" textLength="13.00" lengthAdjust="spacingAndGlyphs" stroke="#1a1a1a" stroke-width="0.1">0.42</text>
<text x="113.90" y="492.90" font-size="8.3" fill="#1a1a1a" text-anchor="middle" textLength="13.00" lengthAdjust="spacingAndGlyphs" stroke="#1a1a1a" stroke-width="0.1">0.60</text>
<text x="131.00" y="492.90" font-size="8.3" fill="#1a1a1a" text-anchor="middle" textLength="13.00" lengthAdjust="spacingAndGlyphs" stroke="#1a1a1a" stroke-width="0.1">0.21</text>
<text x="148.10" y="492.90" font-size="8.3" fill="#1a1a1a" text-anchor="middle" textLength="13.00" lengthAdjust="spacingAndGlyphs" stroke="#1a1a1a" stroke-width="0.1">0.55</text>
<text x="165.20" y="492.90" font-size="8.3" fill="#1a1a1a" text-anchor="middle" textLength="13.00" lengthAdjust="spacingAndGlyphs" stroke="#1a1a1a" stroke-width="0.1">0.63</text>
<text x="182.30" y="492.90" font-size="8.3" fill="#1a1a1a" text-anchor="middle" textLength="13.00" lengthAdjust="spacingAndGlyphs" stroke="#1a1a1a" stroke-width="0.1">0.21</text>
<text x="199.40" y="492.90" font-size="8.3" fill="#1a1a1a" text-anchor="middle" textLength="13.00" lengthAdjust="spacingAndGlyphs" stroke="#1a1a1a" stroke-width="0.1">0.53</text>
<text x="216.50" y="492.90" font-size="8.3" fill="#1a1a1a" text-anchor="middle" textLength="13.00" lengthAdjust="spacingAndGlyphs" stroke="#1a1a1a" stroke-width="0.1">0.71</text>
<rect x="19.30" y="494.80" width="207.30" height="21.40" fill="url(#vg12)"/>
<g filter="url(#bl)">
<rect x="20.90" y="504.60" width="14.20" height="2.00" rx="1.00" ry="1.00" fill="#3a3a3a"/>
<rect x="40.45" y="504.15" width="13.70" height="2.50" rx="1.25" ry="1.25" fill="#2a2a2a"/>
<rect x="59.40" y="503.70" width="14.80" height="3.00" rx="1.50" ry="1.50" fill="#1c1c1c"/>
<rect x="79.50" y="503.25" width="13.80" height="3.50" rx="1.75" ry="1.75" fill="#141414"/>
<rect x="97.10" y="502.10" width="15.20" height="5.00" rx="2.50" ry="2.50" fill="#080808"/>
<rect x="114.50" y="502.50" width="16.00" height="5.00" rx="2.50" ry="2.50" fill="#080808"/>
<rect x="134.65" y="503.70" width="10.50" height="3.00" rx="1.50" ry="1.50" fill="#1a1a1a"/>
<rect x="148.10" y="503.80" width="11.20" height="3.00" rx="1.50" ry="1.50" fill="#161616"/>
<rect x="162.55" y="503.65" width="11.90" height="3.50" rx="1.75" ry="1.75" fill="#121212"/>
<rect x="177.90" y="503.50" width="11.40" height="4.00" rx="2.00" ry="2.00" fill="#0e0e0e"/>
<rect x="192.30" y="503.40" width="12.40" height="4.60" rx="2.30" ry="2.30" fill="#0a0a0a"/>
<rect x="207.85" y="503.20" width="13.50" height="5.60" rx="2.80" ry="2.80" fill="#050505"/>
</g>
<rect x="19.30" y="494.80" width="207.30" height="21.40" fill="none" stroke="#555" stroke-width="0.8"/>
<text x="28.40" y="525.30" font-size="8.3" fill="#1a1a1a" text-anchor="middle" textLength="13.00" lengthAdjust="spacingAndGlyphs" stroke="#1a1a1a" stroke-width="0.1">1.00</text>
<text x="45.50" y="525.30" font-size="8.3" fill="#1a1a1a" text-anchor="middle" textLength="13.00" lengthAdjust="spacingAndGlyphs" stroke="#1a1a1a" stroke-width="0.1">1.28</text>
<text x="62.60" y="525.30" font-size="8.3" fill="#1a1a1a" text-anchor="middle" textLength="13.00" lengthAdjust="spacingAndGlyphs" stroke="#1a1a1a" stroke-width="0.1">1.55</text>
<text x="79.70" y="525.30" font-size="8.3" fill="#1a1a1a" text-anchor="middle" textLength="13.00" lengthAdjust="spacingAndGlyphs" stroke="#1a1a1a" stroke-width="0.1">2.78</text>
<text x="96.80" y="525.30" font-size="8.3" fill="#1a1a1a" text-anchor="middle" textLength="13.00" lengthAdjust="spacingAndGlyphs" stroke="#1a1a1a" stroke-width="0.1">3.52</text>
<text x="113.90" y="525.30" font-size="8.3" fill="#1a1a1a" text-anchor="middle" textLength="13.00" lengthAdjust="spacingAndGlyphs" stroke="#1a1a1a" stroke-width="0.1">3.76</text>
<text x="131.00" y="525.30" font-size="8.3" fill="#1a1a1a" text-anchor="middle" textLength="13.00" lengthAdjust="spacingAndGlyphs" stroke="#1a1a1a" stroke-width="0.1">1.56</text>
<text x="148.10" y="525.30" font-size="8.3" fill="#1a1a1a" text-anchor="middle" textLength="13.00" lengthAdjust="spacingAndGlyphs" stroke="#1a1a1a" stroke-width="0.1">2.25</text>
<text x="165.20" y="525.30" font-size="8.3" fill="#1a1a1a" text-anchor="middle" textLength="13.00" lengthAdjust="spacingAndGlyphs" stroke="#1a1a1a" stroke-width="0.1">2.58</text>
<text x="182.30" y="525.30" font-size="8.3" fill="#1a1a1a" text-anchor="middle" textLength="13.00" lengthAdjust="spacingAndGlyphs" stroke="#1a1a1a" stroke-width="0.1">2.50</text>
<text x="199.40" y="525.30" font-size="8.3" fill="#1a1a1a" text-anchor="middle" textLength="13.00" lengthAdjust="spacingAndGlyphs" stroke="#1a1a1a" stroke-width="0.1">2.75</text>
<text x="216.50" y="525.30" font-size="8.3" fill="#1a1a1a" text-anchor="middle" textLength="13.00" lengthAdjust="spacingAndGlyphs" stroke="#1a1a1a" stroke-width="0.1">3.95</text>
<rect x="19.30" y="527.00" width="207.30" height="21.00" fill="url(#vg13)"/>
<g filter="url(#bl)">
<rect x="19.70" y="534.35" width="15.00" height="4.30" rx="2.15" ry="2.15" fill="#050505"/>
<rect x="36.40" y="534.35" width="15.00" height="4.30" rx="2.15" ry="2.15" fill="#050505"/>
<rect x="53.80" y="534.35" width="15.00" height="4.30" rx="2.15" ry="2.15" fill="#050505"/>
<rect x="71.50" y="534.35" width="15.00" height="4.30" rx="2.15" ry="2.15" fill="#050505"/>
<rect x="88.80" y="534.35" width="15.00" height="4.30" rx="2.15" ry="2.15" fill="#050505"/>
<rect x="105.70" y="534.35" width="15.00" height="4.30" rx="2.15" ry="2.15" fill="#050505"/>
<rect x="123.00" y="534.35" width="15.00" height="4.30" rx="2.15" ry="2.15" fill="#050505"/>
<rect x="141.20" y="534.35" width="15.00" height="4.30" rx="2.15" ry="2.15" fill="#050505"/>
<rect x="158.10" y="534.35" width="15.00" height="4.30" rx="2.15" ry="2.15" fill="#050505"/>
<rect x="174.40" y="534.35" width="15.00" height="4.30" rx="2.15" ry="2.15" fill="#050505"/>
<rect x="190.20" y="534.35" width="15.00" height="4.30" rx="2.15" ry="2.15" fill="#050505"/>
<rect x="206.30" y="534.35" width="15.00" height="4.30" rx="2.15" ry="2.15" fill="#050505"/>
</g>
<rect x="19.30" y="527.00" width="207.30" height="21.00" fill="none" stroke="#555" stroke-width="0.8"/>
<rect x="19.30" y="550.50" width="207.30" height="23.00" fill="#d2d2d2"/>
<rect x="31.50" y="550.50" width="4.00" height="23.00" fill="#e0e0e0"/>
<rect x="48.60" y="550.50" width="4.00" height="23.00" fill="#e0e0e0"/>
<rect x="65.70" y="550.50" width="4.00" height="23.00" fill="#e0e0e0"/>
<rect x="82.80" y="550.50" width="4.00" height="23.00" fill="#e0e0e0"/>
<rect x="99.90" y="550.50" width="4.00" height="23.00" fill="#e0e0e0"/>
<rect x="117.00" y="550.50" width="4.00" height="23.00" fill="#e0e0e0"/>
<rect x="134.10" y="550.50" width="4.00" height="23.00" fill="#e0e0e0"/>
<rect x="151.20" y="550.50" width="4.00" height="23.00" fill="#e0e0e0"/>
<rect x="168.30" y="550.50" width="4.00" height="23.00" fill="#e0e0e0"/>
<rect x="185.40" y="550.50" width="4.00" height="23.00" fill="#e0e0e0"/>
<rect x="202.50" y="550.50" width="4.00" height="23.00" fill="#e0e0e0"/>
<rect x="219.60" y="550.50" width="4.00" height="23.00" fill="#e0e0e0"/>
<rect x="19.30" y="550.50" width="207.30" height="23.00" fill="none" stroke="#555" stroke-width="0.8"/>
<text x="230.00" y="254.80" font-size="9.7" fill="#0a0a0a" stroke="#0a0a0a" stroke-width="0.15">PAR</text>
<text x="230.00" y="297.70" font-size="9.7" fill="#0a0a0a" stroke="#0a0a0a" stroke-width="0.15">PARG</text>
<text x="230.00" y="333.50" font-size="9.7" fill="#0a0a0a" stroke="#0a0a0a" stroke-width="0.15">HuR</text>
<text x="230.00" y="364.90" font-size="9.7" fill="#0a0a0a" stroke="#0a0a0a" stroke-width="0.15">PARP-1</text>
<text x="230.00" y="399.20" font-size="9.7" fill="#0a0a0a" stroke="#0a0a0a" stroke-width="0.15">Histone H3</text>
<text x="230.00" y="422.50" font-size="9.7" fill="#0a0a0a" stroke="#0a0a0a" stroke-width="0.15">GAPDH</text>
<text x="230.00" y="470.60" font-size="9.7" fill="#0a0a0a" stroke="#0a0a0a" stroke-width="0.15">PAR</text>
<text x="230.00" y="510.10" font-size="9.7" fill="#0a0a0a" stroke="#0a0a0a" stroke-width="0.15">PARP-1</text>
<text x="230.00" y="541.40" font-size="9.7" fill="#0a0a0a" stroke="#0a0a0a" stroke-width="0.15">Histone H3</text>
<text x="230.00" y="565.80" font-size="9.7" fill="#0a0a0a" stroke="#0a0a0a" stroke-width="0.15">GAPDH</text>
<text x="265.30" y="188.20" font-size="12.6" fill="#000" font-weight="bold">C</text>
<line x1="319.30" y1="201.90" x2="319.30" y2="331.80" stroke="#000" stroke-width="1.1"/>
<line x1="316.00" y1="331.20" x2="319.30" y2="331.20" stroke="#000" stroke-width="1.0"/>
<text x="314.50" y="333.80" font-size="7.6" fill="#111" font-weight="bold" text-anchor="end">0</text>
<line x1="316.00" y1="266.75" x2="319.30" y2="266.75" stroke="#000" stroke-width="1.0"/>
<text x="314.50" y="269.35" font-size="7.6" fill="#111" font-weight="bold" text-anchor="end">50</text>
<line x1="316.00" y1="202.30" x2="319.30" y2="202.30" stroke="#000" stroke-width="1.0"/>
<text x="314.50" y="204.90" font-size="7.6" fill="#111" font-weight="bold" text-anchor="end">100</text>
<line x1="318.80" y1="331.20" x2="513.20" y2="331.20" stroke="#000" stroke-width="1.1"/>
<line x1="318.85" y1="331.20" x2="318.85" y2="334.00" stroke="#000" stroke-width="1.0"/>
<text x="318.85" y="343.50" font-size="7.9" fill="#111" font-weight="bold" text-anchor="middle">0.001</text>
<line x1="357.60" y1="331.20" x2="357.60" y2="334.00" stroke="#000" stroke-width="1.0"/>
<text x="357.60" y="343.50" font-size="7.9" fill="#111" font-weight="bold" text-anchor="middle">0.01</text>
<line x1="396.35" y1="331.20" x2="396.35" y2="334.00" stroke="#000" stroke-width="1.0"/>
<text x="396.35" y="343.50" font-size="7.9" fill="#111" font-weight="bold" text-anchor="middle">0.1</text>
<line x1="435.10" y1="331.20" x2="435.10" y2="334.00" stroke="#000" stroke-width="1.0"/>
<text x="435.10" y="343.50" font-size="7.9" fill="#111" font-weight="bold" text-anchor="middle">1</text>
<line x1="473.85" y1="331.20" x2="473.85" y2="334.00" stroke="#000" stroke-width="1.0"/>
<text x="473.85" y="343.50" font-size="7.9" fill="#111" font-weight="bold" text-anchor="middle">10</text>
<line x1="512.60" y1="331.20" x2="512.60" y2="334.00" stroke="#000" stroke-width="1.0"/>
<text x="512.60" y="343.50" font-size="7.9" fill="#111" font-weight="bold" text-anchor="middle">100</text>
<text x="416.73" y="358.60" font-size="10.6" fill="#000" font-weight="bold" text-anchor="middle" textLength="88.90" lengthAdjust="spacingAndGlyphs">Veliparib (μmol/L)</text>
<text x="295.30" y="266.30" font-size="9.0" fill="#111" font-weight="bold" text-anchor="middle" textLength="105.30" lengthAdjust="spacingAndGlyphs" transform="rotate(-90 295.30 266.30)">Relative cell survival (%)</text>
<path d="M337.34 203.41 L338.80 203.81 L340.26 204.23 L341.72 204.66 L343.18 205.11 L344.64 205.58 L346.10 206.07 L347.56 206.58 L349.02 207.10 L350.48 207.65 L351.94 208.21 L353.40 208.80 L354.86 209.41 L356.33 210.04 L357.79 210.70 L359.25 211.37 L360.71 212.08 L362.17 212.80 L363.63 213.55 L365.09 214.33 L366.55 215.13 L368.01 215.96 L369.47 216.81 L370.93 217.70 L372.39 218.60 L373.85 219.54 L375.31 220.50 L376.77 221.49 L378.23 222.51 L379.69 223.56 L381.15 224.64 L382.61 225.74 L384.07 226.87 L385.54 228.02 L387.00 229.21 L388.46 230.42 L389.92 231.66 L391.38 232.92 L392.84 234.21 L394.30 235.52 L395.76 236.86 L397.22 238.22 L398.68 239.60 L400.14 241.00 L401.60 242.43 L403.06 243.87 L404.52 245.33 L405.98 246.80 L407.44 248.29 L408.90 249.80 L410.36 251.31 L411.82 252.84 L413.29 254.38 L414.75 255.92 L416.21 257.47 L417.67 259.02 L419.13 260.58 L420.59 262.14 L422.05 263.70 L423.51 265.25 L424.97 266.80 L426.43 268.35 L427.89 269.88 L429.35 271.41 L430.81 272.93 L432.27 274.43 L433.73 275.93 L435.19 277.40 L436.65 278.87 L438.11 280.31 L439.57 281.73 L441.03 283.14 L442.50 284.52 L443.96 285.89 L445.42 287.23 L446.88 288.54 L448.34 289.83 L449.80 291.10 L451.26 292.34 L452.72 293.56 L454.18 294.74 L455.64 295.90 L457.10 297.04 L458.56 298.14 L460.02 299.22 L461.48 300.27 L462.94 301.29 L464.40 302.29 L465.86 303.26 L467.32 304.20 L468.78 305.11 L470.25 305.99 L471.71 306.85 L473.17 307.68 L474.63 308.49 L476.09 309.27 L477.55 310.02 L479.01 310.75 L480.47 311.45 L481.93 312.14 L483.39 312.79 L484.85 313.43 L486.31 314.04 L487.77 314.63 L489.23 315.20 L490.69 315.75 L492.15 316.27 L493.61 316.78 L495.07 317.27 L496.53 317.74 L497.99 318.20 L499.46 318.63 L500.92 319.05 L502.38 319.45 L503.84 319.84 L505.30 320.21 L506.76 320.56 L508.22 320.91 L509.68 321.23 L511.14 321.55 L512.60 321.85" fill="none" stroke="#000" stroke-width="1.1" stroke-dasharray="1.1,1.9"/>
<path d="M337.34 211.85 L338.80 211.90 L340.26 211.95 L341.72 212.01 L343.18 212.07 L344.64 212.13 L346.10 212.20 L347.56 212.27 L349.02 212.35 L350.48 212.43 L351.94 212.51 L353.40 212.60 L354.86 212.70 L356.33 212.80 L357.79 212.91 L359.25 213.03 L360.71 213.15 L362.17 213.28 L363.63 213.42 L365.09 213.57 L366.55 213.73 L368.01 213.89 L369.47 214.07 L370.93 214.25 L372.39 214.45 L373.85 214.66 L375.31 214.89 L376.77 215.12 L378.23 215.37 L379.69 215.64 L381.15 215.92 L382.61 216.22 L384.07 216.53 L385.54 216.86 L387.00 217.21 L388.46 217.59 L389.92 217.98 L391.38 218.39 L392.84 218.83 L394.30 219.29 L395.76 219.78 L397.22 220.30 L398.68 220.84 L400.14 221.41 L401.60 222.01 L403.06 222.64 L404.52 223.31 L405.98 224.00 L407.44 224.74 L408.90 225.50 L410.36 226.31 L411.82 227.15 L413.29 228.03 L414.75 228.95 L416.21 229.91 L417.67 230.92 L419.13 231.96 L420.59 233.05 L422.05 234.18 L423.51 235.35 L424.97 236.57 L426.43 237.83 L427.89 239.13 L429.35 240.48 L430.81 241.87 L432.27 243.30 L433.73 244.77 L435.19 246.28 L436.65 247.82 L438.11 249.40 L439.57 251.02 L441.03 252.67 L442.50 254.35 L443.96 256.05 L445.42 257.78 L446.88 259.54 L448.34 261.31 L449.80 263.09 L451.26 264.89 L452.72 266.70 L454.18 268.51 L455.64 270.32 L457.10 272.14 L458.56 273.94 L460.02 275.74 L461.48 277.53 L462.94 279.30 L464.40 281.05 L465.86 282.78 L467.32 284.49 L468.78 286.17 L470.25 287.82 L471.71 289.44 L473.17 291.02 L474.63 292.57 L476.09 294.08 L477.55 295.55 L479.01 296.98 L480.47 298.37 L481.93 299.72 L483.39 301.02 L484.85 302.29 L486.31 303.50 L487.77 304.68 L489.23 305.81 L490.69 306.90 L492.15 307.95 L493.61 308.95 L495.07 309.92 L496.53 310.84 L497.99 311.72 L499.46 312.56 L500.92 313.37 L502.38 314.14 L503.84 314.87 L505.30 315.57 L506.76 316.24 L508.22 316.87 L509.68 317.47 L511.14 318.05 L512.60 318.59" fill="none" stroke="#000" stroke-width="1.2" stroke-dasharray="3.2,2"/>
<path d="M337.34 210.82 L338.80 210.82 L340.26 210.83 L341.72 210.83 L343.18 210.84 L344.64 210.84 L346.10 210.85 L347.56 210.85 L349.02 210.86 L350.48 210.87 L351.94 210.87 L353.40 210.88 L354.86 210.89 L356.33 210.90 L357.79 210.91 L359.25 210.92 L360.71 210.94 L362.17 210.95 L363.63 210.97 L365.09 210.98 L366.55 211.00 L368.01 211.02 L369.47 211.04 L370.93 211.06 L372.39 211.09 L373.85 211.12 L375.31 211.14 L376.77 211.18 L378.23 211.21 L379.69 211.25 L381.15 211.29 L382.61 211.33 L384.07 211.38 L385.54 211.43 L387.00 211.49 L388.46 211.55 L389.92 211.61 L391.38 211.68 L392.84 211.76 L394.30 211.85 L395.76 211.94 L397.22 212.03 L398.68 212.14 L400.14 212.26 L401.60 212.38 L403.06 212.52 L404.52 212.66 L405.98 212.82 L407.44 212.99 L408.90 213.18 L410.36 213.38 L411.82 213.60 L413.29 213.83 L414.75 214.09 L416.21 214.36 L417.67 214.66 L419.13 214.98 L420.59 215.32 L422.05 215.70 L423.51 216.10 L424.97 216.53 L426.43 216.99 L427.89 217.49 L429.35 218.03 L430.81 218.61 L432.27 219.23 L433.73 219.89 L435.19 220.60 L436.65 221.36 L438.11 222.17 L439.57 223.04 L441.03 223.96 L442.50 224.94 L443.96 225.98 L445.42 227.08 L446.88 228.25 L448.34 229.49 L449.80 230.80 L451.26 232.17 L452.72 233.61 L454.18 235.12 L455.64 236.71 L457.10 238.36 L458.56 240.07 L460.02 241.86 L461.48 243.70 L462.94 245.60 L464.40 247.56 L465.86 249.57 L467.32 251.63 L468.78 253.73 L470.25 255.86 L471.71 258.02 L473.17 260.20 L474.63 262.39 L476.09 264.59 L477.55 266.79 L479.01 268.97 L480.47 271.15 L481.93 273.30 L483.39 275.42 L484.85 277.50 L486.31 279.55 L487.77 281.54 L489.23 283.49 L490.69 285.37 L492.15 287.20 L493.61 288.96 L495.07 290.66 L496.53 292.29 L497.99 293.85 L499.46 295.34 L500.92 296.76 L502.38 298.11 L503.84 299.40 L505.30 300.61 L506.76 301.76 L508.22 302.85 L509.68 303.87 L511.14 304.83 L512.60 305.74" fill="none" stroke="#000" stroke-width="1.5"/>
<rect x="335.34" y="200.56" width="4.0" height="4.0" fill="#000"/>
<rect x="358.67" y="211.51" width="4.0" height="4.0" fill="#000"/>
<line x1="372.33" y1="217.77" x2="372.33" y2="222.92" stroke="#000" stroke-width="0.6"/>
<line x1="371.13" y1="217.77" x2="373.53" y2="217.77" stroke="#000" stroke-width="0.6"/>
<line x1="371.13" y1="222.92" x2="373.53" y2="222.92" stroke="#000" stroke-width="0.6"/>
<rect x="370.33" y="218.35" width="4.0" height="4.0" fill="#000"/>
<line x1="384.00" y1="223.44" x2="384.00" y2="228.60" stroke="#000" stroke-width="0.6"/>
<line x1="382.80" y1="223.44" x2="385.20" y2="223.44" stroke="#000" stroke-width="0.6"/>
<line x1="382.80" y1="228.60" x2="385.20" y2="228.60" stroke="#000" stroke-width="0.6"/>
<rect x="382.00" y="224.02" width="4.0" height="4.0" fill="#000"/>
<rect x="393.66" y="230.08" width="4.0" height="4.0" fill="#000"/>
<rect x="405.33" y="249.02" width="4.0" height="4.0" fill="#000"/>
<rect x="416.99" y="258.95" width="4.0" height="4.0" fill="#000"/>
<rect x="428.66" y="273.00" width="4.0" height="4.0" fill="#000"/>
<rect x="440.32" y="283.05" width="4.0" height="4.0" fill="#000"/>
<rect x="451.99" y="288.85" width="4.0" height="4.0" fill="#000"/>
<rect x="463.65" y="301.62" width="4.0" height="4.0" fill="#000"/>
<rect x="475.32" y="309.22" width="4.0" height="4.0" fill="#000"/>
<rect x="486.98" y="313.47" width="4.0" height="4.0" fill="#000"/>
<rect x="498.65" y="315.15" width="4.0" height="4.0" fill="#000"/>
<rect x="510.31" y="320.95" width="4.0" height="4.0" fill="#000"/>
<path d="M349.00 204.96 L351.30 209.26 L346.70 209.26 Z" fill="#000"/>
<path d="M360.67 211.40 L362.97 215.70 L358.37 215.70 Z" fill="#000"/>
<line x1="372.33" y1="216.48" x2="372.33" y2="221.64" stroke="#000" stroke-width="0.6"/>
<line x1="371.13" y1="216.48" x2="373.53" y2="216.48" stroke="#000" stroke-width="0.6"/>
<line x1="371.13" y1="221.64" x2="373.53" y2="221.64" stroke="#000" stroke-width="0.6"/>
<path d="M372.33 216.56 L374.63 220.86 L370.03 220.86 Z" fill="#000"/>
<path d="M384.00 218.75 L386.30 223.05 L381.70 223.05 Z" fill="#000"/>
<path d="M395.66 222.49 L397.96 226.79 L393.36 226.79 Z" fill="#000"/>
<path d="M407.33 226.35 L409.63 230.65 L405.03 230.65 Z" fill="#000"/>
<path d="M418.99 227.38 L421.29 231.68 L416.69 231.68 Z" fill="#000"/>
<path d="M430.66 237.70 L432.96 242.00 L428.36 242.00 Z" fill="#000"/>
<path d="M442.32 254.71 L444.62 259.01 L440.02 259.01 Z" fill="#000"/>
<line x1="453.99" y1="274.74" x2="453.99" y2="287.63" stroke="#000" stroke-width="0.6"/>
<line x1="452.79" y1="274.74" x2="455.19" y2="274.74" stroke="#000" stroke-width="0.6"/>
<line x1="452.79" y1="287.63" x2="455.19" y2="287.63" stroke="#000" stroke-width="0.6"/>
<path d="M453.99 278.69 L456.29 282.99 L451.69 282.99 Z" fill="#000"/>
<path d="M465.65 285.13 L467.95 289.43 L463.35 289.43 Z" fill="#000"/>
<path d="M477.32 295.19 L479.62 299.49 L475.02 299.49 Z" fill="#000"/>
<path d="M488.98 301.12 L491.28 305.42 L486.68 305.42 Z" fill="#000"/>
<path d="M500.65 307.95 L502.95 312.25 L498.35 312.25 Z" fill="#000"/>
<path d="M512.31 317.36 L514.61 321.66 L510.01 321.66 Z" fill="#000"/>
<line x1="349.00" y1="202.43" x2="349.00" y2="206.30" stroke="#000" stroke-width="0.6"/>
<line x1="347.80" y1="202.43" x2="350.20" y2="202.43" stroke="#000" stroke-width="0.6"/>
<line x1="347.80" y1="206.30" x2="350.20" y2="206.30" stroke="#000" stroke-width="0.6"/>
<circle cx="349.00" cy="204.36" r="2.1" fill="#000"/>
<circle cx="360.67" cy="211.45" r="2.1" fill="#000"/>
<circle cx="372.33" cy="217.25" r="2.1" fill="#000"/>
<circle cx="384.00" cy="216.48" r="2.1" fill="#000"/>
<circle cx="395.66" cy="216.48" r="2.1" fill="#000"/>
<circle cx="407.33" cy="216.74" r="2.1" fill="#000"/>
<line x1="418.99" y1="216.61" x2="418.99" y2="220.47" stroke="#000" stroke-width="0.6"/>
<line x1="417.79" y1="216.61" x2="420.19" y2="216.61" stroke="#000" stroke-width="0.6"/>
<line x1="417.79" y1="220.47" x2="420.19" y2="220.47" stroke="#000" stroke-width="0.6"/>
<circle cx="418.99" cy="218.54" r="2.1" fill="#000"/>
<line x1="430.66" y1="218.54" x2="430.66" y2="222.41" stroke="#000" stroke-width="0.6"/>
<line x1="429.46" y1="218.54" x2="431.86" y2="218.54" stroke="#000" stroke-width="0.6"/>
<line x1="429.46" y1="222.41" x2="431.86" y2="222.41" stroke="#000" stroke-width="0.6"/>
<circle cx="430.66" cy="220.47" r="2.1" fill="#000"/>
<circle cx="442.32" cy="224.34" r="2.1" fill="#000"/>
<line x1="453.99" y1="233.62" x2="453.99" y2="238.78" stroke="#000" stroke-width="0.6"/>
<line x1="452.79" y1="233.62" x2="455.19" y2="233.62" stroke="#000" stroke-width="0.6"/>
<line x1="452.79" y1="238.78" x2="455.19" y2="238.78" stroke="#000" stroke-width="0.6"/>
<circle cx="453.99" cy="236.20" r="2.1" fill="#000"/>
<circle cx="465.65" cy="251.41" r="2.1" fill="#000"/>
<line x1="477.32" y1="265.33" x2="477.32" y2="271.78" stroke="#000" stroke-width="0.6"/>
<line x1="476.12" y1="265.33" x2="478.52" y2="265.33" stroke="#000" stroke-width="0.6"/>
<line x1="476.12" y1="271.78" x2="478.52" y2="271.78" stroke="#000" stroke-width="0.6"/>
<circle cx="477.32" cy="268.55" r="2.1" fill="#000"/>
<circle cx="488.98" cy="284.28" r="2.1" fill="#000"/>
<line x1="500.65" y1="297.04" x2="500.65" y2="300.91" stroke="#000" stroke-width="0.6"/>
<line x1="499.45" y1="297.04" x2="501.85" y2="297.04" stroke="#000" stroke-width="0.6"/>
<line x1="499.45" y1="300.91" x2="501.85" y2="300.91" stroke="#000" stroke-width="0.6"/>
<circle cx="500.65" cy="298.97" r="2.1" fill="#000"/>
<circle cx="512.31" cy="304.65" r="2.1" fill="#000"/>
<line x1="324.6" y1="306.90" x2="338.5" y2="306.90" stroke="#000" stroke-width="1.5"/>
<circle cx="331.50" cy="306.90" r="2.1" fill="#000"/>
<text x="345.90" y="309.80" font-size="8.4" fill="#111" font-weight="bold" textLength="82.60" lengthAdjust="spacingAndGlyphs">siCON: 11.44 μmol/L</text>
<line x1="324.6" y1="315.60" x2="338.5" y2="315.60" stroke="#000" stroke-width="1.2" stroke-dasharray="3.2,2"/>
<path d="M331.50 313.10 L333.80 317.40 L329.20 317.40 Z" fill="#000"/>
<text x="345.90" y="318.50" font-size="8.4" fill="#111" font-weight="bold" textLength="81.50" lengthAdjust="spacingAndGlyphs">siPARG: 2.25 μmol/L</text>
<line x1="324.6" y1="324.00" x2="338.5" y2="324.00" stroke="#000" stroke-width="1.1" stroke-dasharray="1.1,1.9"/>
<rect x="329.50" y="322.00" width="4.0" height="4.0" fill="#000"/>
<text x="345.90" y="326.90" font-size="8.4" fill="#111" font-weight="bold" textLength="75.70" lengthAdjust="spacingAndGlyphs">siHuR: 0.95 μmol/L</text>
<line x1="319.30" y1="389.60" x2="319.30" y2="519.80" stroke="#000" stroke-width="1.1"/>
<line x1="316.00" y1="519.20" x2="319.30" y2="519.20" stroke="#000" stroke-width="1.0"/>
<text x="314.50" y="521.80" font-size="7.6" fill="#111" font-weight="bold" text-anchor="end">0</text>
<line x1="316.00" y1="454.60" x2="319.30" y2="454.60" stroke="#000" stroke-width="1.0"/>
<text x="314.50" y="457.20" font-size="7.6" fill="#111" font-weight="bold" text-anchor="end">50</text>
<line x1="316.00" y1="390.00" x2="319.30" y2="390.00" stroke="#000" stroke-width="1.0"/>
<text x="314.50" y="392.60" font-size="7.6" fill="#111" font-weight="bold" text-anchor="end">100</text>
<line x1="318.80" y1="519.20" x2="513.20" y2="519.20" stroke="#000" stroke-width="1.1"/>
<line x1="318.85" y1="519.20" x2="318.85" y2="522.00" stroke="#000" stroke-width="1.0"/>
<text x="318.85" y="531.50" font-size="7.9" fill="#111" font-weight="bold" text-anchor="middle">0.001</text>
<line x1="357.60" y1="519.20" x2="357.60" y2="522.00" stroke="#000" stroke-width="1.0"/>
<text x="357.60" y="531.50" font-size="7.9" fill="#111" font-weight="bold" text-anchor="middle">0.01</text>
<line x1="396.35" y1="519.20" x2="396.35" y2="522.00" stroke="#000" stroke-width="1.0"/>
<text x="396.35" y="531.50" font-size="7.9" fill="#111" font-weight="bold" text-anchor="middle">0.1</text>
<line x1="435.10" y1="519.20" x2="435.10" y2="522.00" stroke="#000" stroke-width="1.0"/>
<text x="435.10" y="531.50" font-size="7.9" fill="#111" font-weight="bold" text-anchor="middle">1</text>
<line x1="473.85" y1="519.20" x2="473.85" y2="522.00" stroke="#000" stroke-width="1.0"/>
<text x="473.85" y="531.50" font-size="7.9" fill="#111" font-weight="bold" text-anchor="middle">10</text>
<line x1="512.60" y1="519.20" x2="512.60" y2="522.00" stroke="#000" stroke-width="1.0"/>
<text x="512.60" y="531.50" font-size="7.9" fill="#111" font-weight="bold" text-anchor="middle">100</text>
<text x="416.73" y="547.40" font-size="10.6" fill="#000" font-weight="bold" text-anchor="middle" textLength="87.50" lengthAdjust="spacingAndGlyphs">Olaparib (μmol/L)</text>
<text x="295.30" y="451.50" font-size="9.0" fill="#111" font-weight="bold" text-anchor="middle" textLength="105.30" lengthAdjust="spacingAndGlyphs" transform="rotate(-90 295.30 451.50)">Relative cell survival (%)</text>
<path d="M337.34 389.61 L338.80 390.22 L340.26 390.84 L341.72 391.47 L343.18 392.11 L344.64 392.77 L346.10 393.43 L347.56 394.10 L349.02 394.79 L350.48 395.48 L351.94 396.19 L353.40 396.90 L354.86 397.63 L356.33 398.37 L357.79 399.12 L359.25 399.89 L360.71 400.66 L362.17 401.44 L363.63 402.24 L365.09 403.05 L366.55 403.87 L368.01 404.70 L369.47 405.54 L370.93 406.39 L372.39 407.26 L373.85 408.13 L375.31 409.02 L376.77 409.91 L378.23 410.82 L379.69 411.74 L381.15 412.67 L382.61 413.61 L384.07 414.56 L385.54 415.53 L387.00 416.50 L388.46 417.48 L389.92 418.48 L391.38 419.48 L392.84 420.49 L394.30 421.51 L395.76 422.55 L397.22 423.59 L398.68 424.64 L400.14 425.70 L401.60 426.77 L403.06 427.85 L404.52 428.93 L405.98 430.03 L407.44 431.13 L408.90 432.24 L410.36 433.36 L411.82 434.48 L413.29 435.62 L414.75 436.76 L416.21 437.90 L417.67 439.05 L419.13 440.21 L420.59 441.37 L422.05 442.54 L423.51 443.71 L424.97 444.89 L426.43 446.07 L427.89 447.25 L429.35 448.44 L430.81 449.63 L432.27 450.83 L433.73 452.02 L435.19 453.22 L436.65 454.43 L438.11 455.63 L439.57 456.83 L441.03 458.04 L442.50 459.24 L443.96 460.45 L445.42 461.65 L446.88 462.85 L448.34 464.06 L449.80 465.26 L451.26 466.46 L452.72 467.66 L454.18 468.85 L455.64 470.04 L457.10 471.23 L458.56 472.42 L460.02 473.60 L461.48 474.78 L462.94 475.95 L464.40 477.12 L465.86 478.29 L467.32 479.44 L468.78 480.60 L470.25 481.74 L471.71 482.88 L473.17 484.02 L474.63 485.14 L476.09 486.26 L477.55 487.38 L479.01 488.48 L480.47 489.58 L481.93 490.67 L483.39 491.75 L484.85 492.82 L486.31 493.88 L487.77 494.93 L489.23 495.98 L490.69 497.01 L492.15 498.04 L493.61 499.06 L495.07 500.06 L496.53 501.06 L497.99 502.04 L499.46 503.02 L500.92 503.99 L502.38 504.94 L503.84 505.88 L505.30 506.82 L506.76 507.74 L508.22 508.65 L509.68 509.55 L511.14 510.44 L512.60 511.32" fill="none" stroke="#000" stroke-width="1.1" stroke-dasharray="1.1,1.9"/>
<path d="M337.34 394.73 L338.80 395.03 L340.26 395.34 L341.72 395.66 L343.18 395.98 L344.64 396.31 L346.10 396.65 L347.56 397.00 L349.02 397.36 L350.48 397.73 L351.94 398.10 L353.40 398.49 L354.86 398.88 L356.33 399.29 L357.79 399.71 L359.25 400.13 L360.71 400.57 L362.17 401.02 L363.63 401.47 L365.09 401.94 L366.55 402.42 L368.01 402.92 L369.47 403.42 L370.93 403.94 L372.39 404.46 L373.85 405.00 L375.31 405.56 L376.77 406.12 L378.23 406.70 L379.69 407.29 L381.15 407.90 L382.61 408.51 L384.07 409.15 L385.54 409.79 L387.00 410.45 L388.46 411.12 L389.92 411.81 L391.38 412.51 L392.84 413.23 L394.30 413.96 L395.76 414.71 L397.22 415.47 L398.68 416.25 L400.14 417.04 L401.60 417.85 L403.06 418.67 L404.52 419.51 L405.98 420.36 L407.44 421.23 L408.90 422.12 L410.36 423.02 L411.82 423.94 L413.29 424.87 L414.75 425.82 L416.21 426.79 L417.67 427.77 L419.13 428.76 L420.59 429.78 L422.05 430.80 L423.51 431.85 L424.97 432.91 L426.43 433.98 L427.89 435.08 L429.35 436.18 L430.81 437.30 L432.27 438.44 L433.73 439.59 L435.19 440.75 L436.65 441.93 L438.11 443.13 L439.57 444.33 L441.03 445.55 L442.50 446.79 L443.96 448.03 L445.42 449.29 L446.88 450.56 L448.34 451.84 L449.80 453.14 L451.26 454.44 L452.72 455.76 L454.18 457.08 L455.64 458.42 L457.10 459.76 L458.56 461.12 L460.02 462.48 L461.48 463.85 L462.94 465.22 L464.40 466.61 L465.86 468.00 L467.32 469.39 L468.78 470.79 L470.25 472.19 L471.71 473.60 L473.17 475.01 L474.63 476.43 L476.09 477.84 L477.55 479.26 L479.01 480.68 L480.47 482.10 L481.93 483.51 L483.39 484.93 L484.85 486.35 L486.31 487.76 L487.77 489.17 L489.23 490.58 L490.69 491.98 L492.15 493.38 L493.61 494.77 L495.07 496.16 L496.53 497.54 L497.99 498.92 L499.46 500.28 L500.92 501.64 L502.38 503.00 L503.84 504.34 L505.30 505.67 L506.76 507.00 L508.22 508.31 L509.68 509.61 L511.14 510.91 L512.60 512.19" fill="none" stroke="#000" stroke-width="1.2" stroke-dasharray="3.2,2"/>
<path d="M337.34 395.54 L338.80 395.57 L340.26 395.61 L341.72 395.65 L343.18 395.70 L344.64 395.74 L346.10 395.79 L347.56 395.84 L349.02 395.89 L350.48 395.95 L351.94 396.01 L353.40 396.07 L354.86 396.13 L356.33 396.20 L357.79 396.27 L359.25 396.34 L360.71 396.42 L362.17 396.50 L363.63 396.59 L365.09 396.68 L366.55 396.77 L368.01 396.87 L369.47 396.98 L370.93 397.09 L372.39 397.20 L373.85 397.32 L375.31 397.45 L376.77 397.58 L378.23 397.72 L379.69 397.87 L381.15 398.02 L382.61 398.18 L384.07 398.35 L385.54 398.53 L387.00 398.71 L388.46 398.91 L389.92 399.11 L391.38 399.33 L392.84 399.55 L394.30 399.79 L395.76 400.04 L397.22 400.30 L398.68 400.57 L400.14 400.85 L401.60 401.15 L403.06 401.46 L404.52 401.79 L405.98 402.13 L407.44 402.49 L408.90 402.87 L410.36 403.26 L411.82 403.67 L413.29 404.10 L414.75 404.55 L416.21 405.02 L417.67 405.52 L419.13 406.03 L420.59 406.57 L422.05 407.13 L423.51 407.72 L424.97 408.34 L426.43 408.98 L427.89 409.65 L429.35 410.34 L430.81 411.07 L432.27 411.83 L433.73 412.62 L435.19 413.45 L436.65 414.30 L438.11 415.20 L439.57 416.13 L441.03 417.10 L442.50 418.10 L443.96 419.15 L445.42 420.23 L446.88 421.36 L448.34 422.53 L449.80 423.74 L451.26 425.00 L452.72 426.30 L454.18 427.65 L455.64 429.04 L457.10 430.48 L458.56 431.97 L460.02 433.51 L461.48 435.09 L462.94 436.73 L464.40 438.41 L465.86 440.14 L467.32 441.93 L468.78 443.76 L470.25 445.64 L471.71 447.56 L473.17 449.54 L474.63 451.56 L476.09 453.63 L477.55 455.74 L479.01 457.90 L480.47 460.10 L481.93 462.34 L483.39 464.61 L484.85 466.93 L486.31 469.28 L487.77 471.67 L489.23 474.08 L490.69 476.53 L492.15 479.00 L493.61 481.49 L495.07 484.01 L496.53 486.54 L497.99 489.09 L499.46 491.65 L500.92 494.21 L502.38 496.79 L503.84 499.36 L505.30 501.94 L506.76 504.51 L508.22 507.07 L509.68 509.63 L511.14 512.17 L512.60 514.69" fill="none" stroke="#000" stroke-width="1.5"/>
<rect x="335.34" y="387.35" width="4.0" height="4.0" fill="#000"/>
<rect x="358.67" y="400.92" width="4.0" height="4.0" fill="#000"/>
<line x1="372.33" y1="406.80" x2="372.33" y2="411.96" stroke="#000" stroke-width="0.6"/>
<line x1="371.13" y1="406.80" x2="373.53" y2="406.80" stroke="#000" stroke-width="0.6"/>
<line x1="371.13" y1="411.96" x2="373.53" y2="411.96" stroke="#000" stroke-width="0.6"/>
<rect x="370.33" y="407.38" width="4.0" height="4.0" fill="#000"/>
<line x1="384.00" y1="413.00" x2="384.00" y2="418.17" stroke="#000" stroke-width="0.6"/>
<line x1="382.80" y1="413.00" x2="385.20" y2="413.00" stroke="#000" stroke-width="0.6"/>
<line x1="382.80" y1="418.17" x2="385.20" y2="418.17" stroke="#000" stroke-width="0.6"/>
<rect x="382.00" y="413.58" width="4.0" height="4.0" fill="#000"/>
<rect x="393.66" y="421.59" width="4.0" height="4.0" fill="#000"/>
<line x1="407.33" y1="434.96" x2="407.33" y2="440.13" stroke="#000" stroke-width="0.6"/>
<line x1="406.13" y1="434.96" x2="408.53" y2="434.96" stroke="#000" stroke-width="0.6"/>
<line x1="406.13" y1="440.13" x2="408.53" y2="440.13" stroke="#000" stroke-width="0.6"/>
<rect x="405.33" y="435.55" width="4.0" height="4.0" fill="#000"/>
<rect x="416.99" y="445.36" width="4.0" height="4.0" fill="#000"/>
<line x1="430.66" y1="456.02" x2="430.66" y2="474.11" stroke="#000" stroke-width="0.6"/>
<line x1="429.46" y1="456.02" x2="431.86" y2="456.02" stroke="#000" stroke-width="0.6"/>
<line x1="429.46" y1="474.11" x2="431.86" y2="474.11" stroke="#000" stroke-width="0.6"/>
<rect x="428.66" y="463.07" width="4.0" height="4.0" fill="#000"/>
<rect x="440.32" y="473.53" width="4.0" height="4.0" fill="#000"/>
<rect x="451.99" y="474.31" width="4.0" height="4.0" fill="#000"/>
<rect x="463.65" y="477.54" width="4.0" height="4.0" fill="#000"/>
<rect x="475.32" y="485.29" width="4.0" height="4.0" fill="#000"/>
<rect x="486.98" y="492.65" width="4.0" height="4.0" fill="#000"/>
<rect x="498.65" y="498.98" width="4.0" height="4.0" fill="#000"/>
<rect x="510.31" y="507.64" width="4.0" height="4.0" fill="#000"/>
<path d="M337.34 391.76 L339.64 396.06 L335.04 396.06 Z" fill="#000"/>
<path d="M349.00 394.22 L351.30 398.52 L346.70 398.52 Z" fill="#000"/>
<line x1="360.67" y1="400.98" x2="360.67" y2="411.32" stroke="#000" stroke-width="0.6"/>
<line x1="359.47" y1="400.98" x2="361.87" y2="400.98" stroke="#000" stroke-width="0.6"/>
<line x1="359.47" y1="411.32" x2="361.87" y2="411.32" stroke="#000" stroke-width="0.6"/>
<path d="M360.67 403.65 L362.97 407.95 L358.37 407.95 Z" fill="#000"/>
<path d="M384.00 410.76 L386.30 415.06 L381.70 415.06 Z" fill="#000"/>
<path d="M395.66 413.34 L397.96 417.64 L393.36 417.64 Z" fill="#000"/>
<path d="M407.33 413.47 L409.63 417.77 L405.03 417.77 Z" fill="#000"/>
<path d="M418.99 414.63 L421.29 418.93 L416.69 418.93 Z" fill="#000"/>
<path d="M430.66 446.16 L432.96 450.46 L428.36 450.46 Z" fill="#000"/>
<path d="M442.32 455.46 L444.62 459.76 L440.02 459.76 Z" fill="#000"/>
<path d="M453.99 459.21 L456.29 463.51 L451.69 463.51 Z" fill="#000"/>
<path d="M465.65 470.45 L467.95 474.75 L463.35 474.75 Z" fill="#000"/>
<line x1="477.32" y1="476.95" x2="477.32" y2="492.46" stroke="#000" stroke-width="0.6"/>
<line x1="476.12" y1="476.95" x2="478.52" y2="476.95" stroke="#000" stroke-width="0.6"/>
<line x1="476.12" y1="492.46" x2="478.52" y2="492.46" stroke="#000" stroke-width="0.6"/>
<path d="M477.32 482.20 L479.62 486.50 L475.02 486.50 Z" fill="#000"/>
<path d="M488.98 492.67 L491.28 496.97 L486.68 496.97 Z" fill="#000"/>
<path d="M500.65 497.84 L502.95 502.14 L498.35 502.14 Z" fill="#000"/>
<path d="M512.31 507.14 L514.61 511.44 L510.01 511.44 Z" fill="#000"/>
<circle cx="349.00" cy="392.07" r="2.1" fill="#000"/>
<circle cx="360.67" cy="394.26" r="2.1" fill="#000"/>
<circle cx="372.33" cy="395.68" r="2.1" fill="#000"/>
<circle cx="384.00" cy="403.95" r="2.1" fill="#000"/>
<circle cx="395.66" cy="406.15" r="2.1" fill="#000"/>
<circle cx="407.33" cy="411.06" r="2.1" fill="#000"/>
<circle cx="418.99" cy="411.83" r="2.1" fill="#000"/>
<circle cx="430.66" cy="413.51" r="2.1" fill="#000"/>
<circle cx="442.32" cy="421.40" r="2.1" fill="#000"/>
<line x1="453.99" y1="425.27" x2="453.99" y2="433.02" stroke="#000" stroke-width="0.6"/>
<line x1="452.79" y1="425.27" x2="455.19" y2="425.27" stroke="#000" stroke-width="0.6"/>
<line x1="452.79" y1="433.02" x2="455.19" y2="433.02" stroke="#000" stroke-width="0.6"/>
<circle cx="453.99" cy="429.15" r="2.1" fill="#000"/>
<circle cx="465.65" cy="443.62" r="2.1" fill="#000"/>
<line x1="477.32" y1="442.97" x2="477.32" y2="450.72" stroke="#000" stroke-width="0.6"/>
<line x1="476.12" y1="442.97" x2="478.52" y2="442.97" stroke="#000" stroke-width="0.6"/>
<line x1="476.12" y1="450.72" x2="478.52" y2="450.72" stroke="#000" stroke-width="0.6"/>
<circle cx="477.32" cy="446.85" r="2.1" fill="#000"/>
<circle cx="488.98" cy="475.53" r="2.1" fill="#000"/>
<circle cx="500.65" cy="500.34" r="2.1" fill="#000"/>
<circle cx="512.31" cy="509.64" r="2.1" fill="#000"/>
<line x1="324.6" y1="493.70" x2="338.5" y2="493.70" stroke="#000" stroke-width="1.5"/>
<circle cx="331.50" cy="493.70" r="2.1" fill="#000"/>
<text x="345.90" y="496.60" font-size="8.4" fill="#111" font-weight="bold" textLength="82.60" lengthAdjust="spacingAndGlyphs">siCON: 12.97 μmol/L</text>
<line x1="324.6" y1="502.60" x2="338.5" y2="502.60" stroke="#000" stroke-width="1.2" stroke-dasharray="3.2,2"/>
<path d="M331.50 500.10 L333.80 504.40 L329.20 504.40 Z" fill="#000"/>
<text x="345.90" y="505.50" font-size="8.4" fill="#111" font-weight="bold" textLength="81.50" lengthAdjust="spacingAndGlyphs">siPARG: 2.53 μmol/L</text>
<line x1="324.6" y1="511.40" x2="338.5" y2="511.40" stroke="#000" stroke-width="1.1" stroke-dasharray="1.1,1.9"/>
<rect x="329.50" y="509.40" width="4.0" height="4.0" fill="#000"/>
<text x="345.90" y="514.30" font-size="8.4" fill="#111" font-weight="bold" textLength="75.70" lengthAdjust="spacingAndGlyphs">siHuR: 1.86 μmol/L</text>
</svg>
</body></html>
